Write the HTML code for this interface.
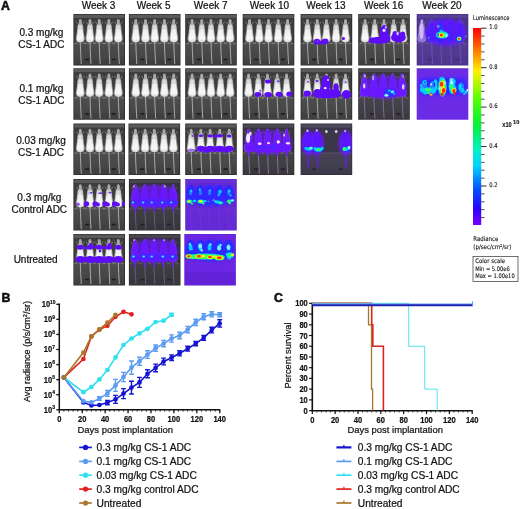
<!DOCTYPE html>
<html lang="en"><head><meta charset="utf-8"><title>Figure</title>
<style>html,body{margin:0;padding:0;background:#fff}body{width:520px;height:509px;overflow:hidden}svg{display:block}text{font-family:"Liberation Sans", sans-serif;fill:#111;stroke:#111;stroke-width:0.22px}.pl{stroke-width:0.55px}.cb{stroke-width:0.12px}</style></head><body>
<svg width="520" height="509" viewBox="0 0 520 509">
<rect width="520" height="509" fill="#fff"/>
<defs>
<linearGradient id="cbar" x1="0" y1="0" x2="0" y2="1"><stop offset="0" stop-color="#ff0000"/><stop offset="0.10" stop-color="#ff6a00"/><stop offset="0.22" stop-color="#fff000"/><stop offset="0.36" stop-color="#55ff00"/><stop offset="0.50" stop-color="#00f03c"/><stop offset="0.62" stop-color="#00f0c8"/><stop offset="0.70" stop-color="#00d2ff"/><stop offset="0.82" stop-color="#0050ff"/><stop offset="0.92" stop-color="#2a00ff"/><stop offset="1" stop-color="#7a00ff"/></linearGradient>
</defs>
<text x="1.0" y="10.2" font-size="12.3" font-weight="700" class="pl">A</text>
<text x="98.5" y="8.6" font-size="10" text-anchor="middle">Week 3</text>
<text x="153.6" y="8.6" font-size="10" text-anchor="middle">Week 5</text>
<text x="210.7" y="8.6" font-size="10" text-anchor="middle">Week 7</text>
<text x="269.4" y="8.6" font-size="10" text-anchor="middle">Week 10</text>
<text x="325.9" y="8.6" font-size="10" text-anchor="middle">Week 13</text>
<text x="383.6" y="8.6" font-size="10" text-anchor="middle">Week 16</text>
<text x="442.0" y="8.6" font-size="10" text-anchor="middle">Week 20</text>
<text x="41.4" y="35.8" font-size="10" text-anchor="middle">0.3 mg/kg</text>
<text x="41.4" y="48.0" font-size="10" text-anchor="middle">CS-1 ADC</text>
<text x="41.4" y="91.5" font-size="10" text-anchor="middle">0.1 mg/kg</text>
<text x="41.4" y="103.6" font-size="10" text-anchor="middle">CS-1 ADC</text>
<text x="41.0" y="144.3" font-size="10" text-anchor="middle">0.03 mg/kg</text>
<text x="41.0" y="156.0" font-size="10" text-anchor="middle">CS-1 ADC</text>
<text x="39.3" y="200.5" font-size="10" text-anchor="middle">0.3 mg/kg</text>
<text x="39.3" y="212.5" font-size="10" text-anchor="middle">Control ADC</text>
<text x="35.6" y="262.7" font-size="10" text-anchor="middle">Untreated</text>
<defs><clipPath id="pc"><rect x="0" y="0" width="51.6" height="51.5"/></clipPath><filter id="soft" x="-10%" y="-10%" width="120%" height="120%"><feGaussianBlur stdDeviation="0.5"/></filter><filter id="b1" x="-50%" y="-50%" width="200%" height="200%"><feGaussianBlur stdDeviation="0.7"/></filter><filter id="b2" x="-50%" y="-50%" width="200%" height="200%"><feGaussianBlur stdDeviation="1.4"/></filter><path id="m" d="M0 5.2C0.9 5.2 1.5 6.2 1.5 7.4C1.5 8.4 1.2 9 1.4 9.7C2.6 10.5 3.0 12.4 3.1 15C3.2 17.6 3.7 20 4.2 22.6C4.8 25.4 4.6 28.6 0 28.6C-4.6 28.6 -4.8 25.4 -4.2 22.6C-3.7 20 -3.2 17.6 -3.1 15C-3.0 12.4 -2.6 10.5 -1.4 9.7C-1.2 9 -1.5 8.4 -1.5 7.4C-1.5 6.2 -0.9 5.2 0 5.2Z"/><linearGradient id="mg" x1="0" y1="0" x2="0" y2="1"><stop offset="0" stop-color="#9c9c9c"/><stop offset="0.2" stop-color="#b8b8b8"/><stop offset="0.32" stop-color="#dcdcdc"/><stop offset="0.5" stop-color="#efefef"/><stop offset="0.85" stop-color="#f8f8f8"/><stop offset="1" stop-color="#d2d2d2"/></linearGradient><path id="t" d="M0 28.5C0.2 36 0.6 44 1 50.2" fill="none"/><linearGradient id="fl" x1="0" y1="0" x2="0" y2="1"><stop offset="0" stop-color="#4e4e4e"/><stop offset="0.5" stop-color="#484848"/><stop offset="1" stop-color="#3e3e3e"/></linearGradient></defs><g transform="translate(73.4 13.9)" clip-path="url(#pc)"><g filter="url(#soft)"><rect x="-3" y="-3" width="58" height="58" fill="#2b2b2b"/><rect x="0.7" y="0.7" width="50.2" height="3.5" fill="#5a5a5a"/><rect x="0.7" y="4.2" width="50.2" height="25.3" fill="#3c3c3c"/><rect x="0.7" y="29.2" width="50.2" height="21.6" fill="url(#fl)"/><rect x="0.7" y="28.9" width="50.2" height="1.4" fill="#5e5e5e"/><rect x="11.6" y="44.8" width="4" height="1.6" fill="#1e1e1e"/><rect x="38.2" y="44.8" width="4" height="1.6" fill="#1e1e1e"/><use href="#t" x="6.9" stroke="#b4b4b4" stroke-width="0.9"/><use href="#t" x="16.6" stroke="#b4b4b4" stroke-width="0.9"/><use href="#t" x="25.8" stroke="#b4b4b4" stroke-width="0.9"/><use href="#t" x="35.5" stroke="#b4b4b4" stroke-width="0.9"/><use href="#t" x="44.9" stroke="#b4b4b4" stroke-width="0.9"/><path d="M3.7 27.6l-1.6 2.6M10.1 27.6l1.6 2.6M4.7 10.4l-1.7 -2.6M9.1 10.4l1.7 -2.6" stroke="#8a8a8a" stroke-width="0.8" fill="none"/><use href="#m" x="6.9" fill="#a9a9a9"/><use href="#m" transform="translate(6.9 0.3) scale(0.76 0.985)" fill="url(#mg)"/><path d="M5.7 10.2h2.4M4.7 13.6l1.2 1.6M9.1 13.6l-1.2 1.6" stroke="#8e8e8e" stroke-width="0.7" fill="none" opacity="0.75"/><path d="M13.4 27.6l-1.6 2.6M19.8 27.6l1.6 2.6M14.4 10.4l-1.7 -2.6M18.8 10.4l1.7 -2.6" stroke="#8a8a8a" stroke-width="0.8" fill="none"/><use href="#m" x="16.6" fill="#a9a9a9"/><use href="#m" transform="translate(16.6 0.3) scale(0.76 0.985)" fill="url(#mg)"/><path d="M15.4 10.2h2.4M14.4 13.6l1.2 1.6M18.8 13.6l-1.2 1.6" stroke="#8e8e8e" stroke-width="0.7" fill="none" opacity="0.75"/><path d="M22.6 27.6l-1.6 2.6M29.0 27.6l1.6 2.6M23.6 10.4l-1.7 -2.6M28.0 10.4l1.7 -2.6" stroke="#8a8a8a" stroke-width="0.8" fill="none"/><use href="#m" x="25.8" fill="#a9a9a9"/><use href="#m" transform="translate(25.8 0.3) scale(0.76 0.985)" fill="url(#mg)"/><path d="M24.6 10.2h2.4M23.6 13.6l1.2 1.6M28.0 13.6l-1.2 1.6" stroke="#8e8e8e" stroke-width="0.7" fill="none" opacity="0.75"/><path d="M32.3 27.6l-1.6 2.6M38.7 27.6l1.6 2.6M33.3 10.4l-1.7 -2.6M37.7 10.4l1.7 -2.6" stroke="#8a8a8a" stroke-width="0.8" fill="none"/><use href="#m" x="35.5" fill="#a9a9a9"/><use href="#m" transform="translate(35.5 0.3) scale(0.76 0.985)" fill="url(#mg)"/><path d="M34.3 10.2h2.4M33.3 13.6l1.2 1.6M37.7 13.6l-1.2 1.6" stroke="#8e8e8e" stroke-width="0.7" fill="none" opacity="0.75"/><path d="M41.7 27.6l-1.6 2.6M48.1 27.6l1.6 2.6M42.7 10.4l-1.7 -2.6M47.1 10.4l1.7 -2.6" stroke="#8a8a8a" stroke-width="0.8" fill="none"/><use href="#m" x="44.9" fill="#a9a9a9"/><use href="#m" transform="translate(44.9 0.3) scale(0.76 0.985)" fill="url(#mg)"/><path d="M43.7 10.2h2.4M42.7 13.6l1.2 1.6M47.1 13.6l-1.2 1.6" stroke="#8e8e8e" stroke-width="0.7" fill="none" opacity="0.75"/></g></g><g transform="translate(128.9 13.9)" clip-path="url(#pc)"><g filter="url(#soft)"><rect x="-3" y="-3" width="58" height="58" fill="#2b2b2b"/><rect x="0.7" y="0.7" width="50.2" height="3.5" fill="#5a5a5a"/><rect x="0.7" y="4.2" width="50.2" height="25.3" fill="#3c3c3c"/><rect x="0.7" y="29.2" width="50.2" height="21.6" fill="url(#fl)"/><rect x="0.7" y="28.9" width="50.2" height="1.4" fill="#5e5e5e"/><rect x="11.6" y="44.8" width="4" height="1.6" fill="#1e1e1e"/><rect x="38.2" y="44.8" width="4" height="1.6" fill="#1e1e1e"/><use href="#t" x="6.9" stroke="#b4b4b4" stroke-width="0.9"/><use href="#t" x="16.6" stroke="#b4b4b4" stroke-width="0.9"/><use href="#t" x="25.8" stroke="#b4b4b4" stroke-width="0.9"/><use href="#t" x="35.5" stroke="#b4b4b4" stroke-width="0.9"/><use href="#t" x="44.9" stroke="#b4b4b4" stroke-width="0.9"/><path d="M3.7 27.6l-1.6 2.6M10.1 27.6l1.6 2.6M4.7 10.4l-1.7 -2.6M9.1 10.4l1.7 -2.6" stroke="#8a8a8a" stroke-width="0.8" fill="none"/><use href="#m" x="6.9" fill="#a9a9a9"/><use href="#m" transform="translate(6.9 0.3) scale(0.76 0.985)" fill="url(#mg)"/><path d="M5.7 10.2h2.4M4.7 13.6l1.2 1.6M9.1 13.6l-1.2 1.6" stroke="#8e8e8e" stroke-width="0.7" fill="none" opacity="0.75"/><path d="M13.4 27.6l-1.6 2.6M19.8 27.6l1.6 2.6M14.4 10.4l-1.7 -2.6M18.8 10.4l1.7 -2.6" stroke="#8a8a8a" stroke-width="0.8" fill="none"/><use href="#m" x="16.6" fill="#a9a9a9"/><use href="#m" transform="translate(16.6 0.3) scale(0.76 0.985)" fill="url(#mg)"/><path d="M15.4 10.2h2.4M14.4 13.6l1.2 1.6M18.8 13.6l-1.2 1.6" stroke="#8e8e8e" stroke-width="0.7" fill="none" opacity="0.75"/><path d="M22.6 27.6l-1.6 2.6M29.0 27.6l1.6 2.6M23.6 10.4l-1.7 -2.6M28.0 10.4l1.7 -2.6" stroke="#8a8a8a" stroke-width="0.8" fill="none"/><use href="#m" x="25.8" fill="#a9a9a9"/><use href="#m" transform="translate(25.8 0.3) scale(0.76 0.985)" fill="url(#mg)"/><path d="M24.6 10.2h2.4M23.6 13.6l1.2 1.6M28.0 13.6l-1.2 1.6" stroke="#8e8e8e" stroke-width="0.7" fill="none" opacity="0.75"/><path d="M32.3 27.6l-1.6 2.6M38.7 27.6l1.6 2.6M33.3 10.4l-1.7 -2.6M37.7 10.4l1.7 -2.6" stroke="#8a8a8a" stroke-width="0.8" fill="none"/><use href="#m" x="35.5" fill="#a9a9a9"/><use href="#m" transform="translate(35.5 0.3) scale(0.76 0.985)" fill="url(#mg)"/><path d="M34.3 10.2h2.4M33.3 13.6l1.2 1.6M37.7 13.6l-1.2 1.6" stroke="#8e8e8e" stroke-width="0.7" fill="none" opacity="0.75"/><path d="M41.7 27.6l-1.6 2.6M48.1 27.6l1.6 2.6M42.7 10.4l-1.7 -2.6M47.1 10.4l1.7 -2.6" stroke="#8a8a8a" stroke-width="0.8" fill="none"/><use href="#m" x="44.9" fill="#a9a9a9"/><use href="#m" transform="translate(44.9 0.3) scale(0.76 0.985)" fill="url(#mg)"/><path d="M43.7 10.2h2.4M42.7 13.6l1.2 1.6M47.1 13.6l-1.2 1.6" stroke="#8e8e8e" stroke-width="0.7" fill="none" opacity="0.75"/></g></g><g transform="translate(185.2 13.9)" clip-path="url(#pc)"><g filter="url(#soft)"><rect x="-3" y="-3" width="58" height="58" fill="#2b2b2b"/><rect x="0.7" y="0.7" width="50.2" height="3.5" fill="#5a5a5a"/><rect x="0.7" y="4.2" width="50.2" height="25.3" fill="#3c3c3c"/><rect x="0.7" y="29.2" width="50.2" height="21.6" fill="url(#fl)"/><rect x="0.7" y="28.9" width="50.2" height="1.4" fill="#5e5e5e"/><rect x="11.6" y="44.8" width="4" height="1.6" fill="#1e1e1e"/><rect x="38.2" y="44.8" width="4" height="1.6" fill="#1e1e1e"/><use href="#t" x="6.9" stroke="#b4b4b4" stroke-width="0.9"/><use href="#t" x="16.6" stroke="#b4b4b4" stroke-width="0.9"/><use href="#t" x="25.8" stroke="#b4b4b4" stroke-width="0.9"/><use href="#t" x="35.5" stroke="#b4b4b4" stroke-width="0.9"/><use href="#t" x="44.9" stroke="#b4b4b4" stroke-width="0.9"/><path d="M3.7 27.6l-1.6 2.6M10.1 27.6l1.6 2.6M4.7 10.4l-1.7 -2.6M9.1 10.4l1.7 -2.6" stroke="#8a8a8a" stroke-width="0.8" fill="none"/><use href="#m" x="6.9" fill="#a9a9a9"/><use href="#m" transform="translate(6.9 0.3) scale(0.76 0.985)" fill="url(#mg)"/><path d="M5.7 10.2h2.4M4.7 13.6l1.2 1.6M9.1 13.6l-1.2 1.6" stroke="#8e8e8e" stroke-width="0.7" fill="none" opacity="0.75"/><path d="M13.4 27.6l-1.6 2.6M19.8 27.6l1.6 2.6M14.4 10.4l-1.7 -2.6M18.8 10.4l1.7 -2.6" stroke="#8a8a8a" stroke-width="0.8" fill="none"/><use href="#m" x="16.6" fill="#a9a9a9"/><use href="#m" transform="translate(16.6 0.3) scale(0.76 0.985)" fill="url(#mg)"/><path d="M15.4 10.2h2.4M14.4 13.6l1.2 1.6M18.8 13.6l-1.2 1.6" stroke="#8e8e8e" stroke-width="0.7" fill="none" opacity="0.75"/><path d="M22.6 27.6l-1.6 2.6M29.0 27.6l1.6 2.6M23.6 10.4l-1.7 -2.6M28.0 10.4l1.7 -2.6" stroke="#8a8a8a" stroke-width="0.8" fill="none"/><use href="#m" x="25.8" fill="#a9a9a9"/><use href="#m" transform="translate(25.8 0.3) scale(0.76 0.985)" fill="url(#mg)"/><path d="M24.6 10.2h2.4M23.6 13.6l1.2 1.6M28.0 13.6l-1.2 1.6" stroke="#8e8e8e" stroke-width="0.7" fill="none" opacity="0.75"/><path d="M32.3 27.6l-1.6 2.6M38.7 27.6l1.6 2.6M33.3 10.4l-1.7 -2.6M37.7 10.4l1.7 -2.6" stroke="#8a8a8a" stroke-width="0.8" fill="none"/><use href="#m" x="35.5" fill="#a9a9a9"/><use href="#m" transform="translate(35.5 0.3) scale(0.76 0.985)" fill="url(#mg)"/><path d="M34.3 10.2h2.4M33.3 13.6l1.2 1.6M37.7 13.6l-1.2 1.6" stroke="#8e8e8e" stroke-width="0.7" fill="none" opacity="0.75"/><path d="M41.7 27.6l-1.6 2.6M48.1 27.6l1.6 2.6M42.7 10.4l-1.7 -2.6M47.1 10.4l1.7 -2.6" stroke="#8a8a8a" stroke-width="0.8" fill="none"/><use href="#m" x="44.9" fill="#a9a9a9"/><use href="#m" transform="translate(44.9 0.3) scale(0.76 0.985)" fill="url(#mg)"/><path d="M43.7 10.2h2.4M42.7 13.6l1.2 1.6M47.1 13.6l-1.2 1.6" stroke="#8e8e8e" stroke-width="0.7" fill="none" opacity="0.75"/></g></g><g transform="translate(242.7 13.9)" clip-path="url(#pc)"><g filter="url(#soft)"><rect x="-3" y="-3" width="58" height="58" fill="#2b2b2b"/><rect x="0.7" y="0.7" width="50.2" height="3.5" fill="#5a5a5a"/><rect x="0.7" y="4.2" width="50.2" height="25.3" fill="#3c3c3c"/><rect x="0.7" y="29.2" width="50.2" height="21.6" fill="url(#fl)"/><rect x="0.7" y="28.9" width="50.2" height="1.4" fill="#5e5e5e"/><rect x="11.6" y="44.8" width="4" height="1.6" fill="#1e1e1e"/><rect x="38.2" y="44.8" width="4" height="1.6" fill="#1e1e1e"/><use href="#t" x="6.9" stroke="#b4b4b4" stroke-width="0.9"/><use href="#t" x="16.6" stroke="#b4b4b4" stroke-width="0.9"/><use href="#t" x="25.8" stroke="#b4b4b4" stroke-width="0.9"/><use href="#t" x="35.5" stroke="#b4b4b4" stroke-width="0.9"/><use href="#t" x="44.9" stroke="#b4b4b4" stroke-width="0.9"/><path d="M3.7 27.6l-1.6 2.6M10.1 27.6l1.6 2.6M4.7 10.4l-1.7 -2.6M9.1 10.4l1.7 -2.6" stroke="#8a8a8a" stroke-width="0.8" fill="none"/><use href="#m" x="6.9" fill="#a9a9a9"/><use href="#m" transform="translate(6.9 0.3) scale(0.76 0.985)" fill="url(#mg)"/><path d="M5.7 10.2h2.4M4.7 13.6l1.2 1.6M9.1 13.6l-1.2 1.6" stroke="#8e8e8e" stroke-width="0.7" fill="none" opacity="0.75"/><path d="M13.4 27.6l-1.6 2.6M19.8 27.6l1.6 2.6M14.4 10.4l-1.7 -2.6M18.8 10.4l1.7 -2.6" stroke="#8a8a8a" stroke-width="0.8" fill="none"/><use href="#m" x="16.6" fill="#a9a9a9"/><use href="#m" transform="translate(16.6 0.3) scale(0.76 0.985)" fill="url(#mg)"/><path d="M15.4 10.2h2.4M14.4 13.6l1.2 1.6M18.8 13.6l-1.2 1.6" stroke="#8e8e8e" stroke-width="0.7" fill="none" opacity="0.75"/><path d="M22.6 27.6l-1.6 2.6M29.0 27.6l1.6 2.6M23.6 10.4l-1.7 -2.6M28.0 10.4l1.7 -2.6" stroke="#8a8a8a" stroke-width="0.8" fill="none"/><use href="#m" x="25.8" fill="#a9a9a9"/><use href="#m" transform="translate(25.8 0.3) scale(0.76 0.985)" fill="url(#mg)"/><path d="M24.6 10.2h2.4M23.6 13.6l1.2 1.6M28.0 13.6l-1.2 1.6" stroke="#8e8e8e" stroke-width="0.7" fill="none" opacity="0.75"/><path d="M32.3 27.6l-1.6 2.6M38.7 27.6l1.6 2.6M33.3 10.4l-1.7 -2.6M37.7 10.4l1.7 -2.6" stroke="#8a8a8a" stroke-width="0.8" fill="none"/><use href="#m" x="35.5" fill="#a9a9a9"/><use href="#m" transform="translate(35.5 0.3) scale(0.76 0.985)" fill="url(#mg)"/><path d="M34.3 10.2h2.4M33.3 13.6l1.2 1.6M37.7 13.6l-1.2 1.6" stroke="#8e8e8e" stroke-width="0.7" fill="none" opacity="0.75"/><path d="M41.7 27.6l-1.6 2.6M48.1 27.6l1.6 2.6M42.7 10.4l-1.7 -2.6M47.1 10.4l1.7 -2.6" stroke="#8a8a8a" stroke-width="0.8" fill="none"/><use href="#m" x="44.9" fill="#a9a9a9"/><use href="#m" transform="translate(44.9 0.3) scale(0.76 0.985)" fill="url(#mg)"/><path d="M43.7 10.2h2.4M42.7 13.6l1.2 1.6M47.1 13.6l-1.2 1.6" stroke="#8e8e8e" stroke-width="0.7" fill="none" opacity="0.75"/></g></g><g transform="translate(73.4 68.3)" clip-path="url(#pc)"><g filter="url(#soft)"><rect x="-3" y="-3" width="58" height="58" fill="#2b2b2b"/><rect x="0.7" y="0.7" width="50.2" height="3.5" fill="#5a5a5a"/><rect x="0.7" y="4.2" width="50.2" height="25.3" fill="#3c3c3c"/><rect x="0.7" y="29.2" width="50.2" height="21.6" fill="url(#fl)"/><rect x="0.7" y="28.9" width="50.2" height="1.4" fill="#5e5e5e"/><rect x="11.6" y="44.8" width="4" height="1.6" fill="#1e1e1e"/><rect x="38.2" y="44.8" width="4" height="1.6" fill="#1e1e1e"/><use href="#t" x="6.9" stroke="#b4b4b4" stroke-width="0.9"/><use href="#t" x="16.6" stroke="#b4b4b4" stroke-width="0.9"/><use href="#t" x="25.8" stroke="#b4b4b4" stroke-width="0.9"/><use href="#t" x="35.5" stroke="#b4b4b4" stroke-width="0.9"/><use href="#t" x="44.9" stroke="#b4b4b4" stroke-width="0.9"/><path d="M3.7 27.6l-1.6 2.6M10.1 27.6l1.6 2.6M4.7 10.4l-1.7 -2.6M9.1 10.4l1.7 -2.6" stroke="#8a8a8a" stroke-width="0.8" fill="none"/><use href="#m" x="6.9" fill="#a9a9a9"/><use href="#m" transform="translate(6.9 0.3) scale(0.76 0.985)" fill="url(#mg)"/><path d="M5.7 10.2h2.4M4.7 13.6l1.2 1.6M9.1 13.6l-1.2 1.6" stroke="#8e8e8e" stroke-width="0.7" fill="none" opacity="0.75"/><path d="M13.4 27.6l-1.6 2.6M19.8 27.6l1.6 2.6M14.4 10.4l-1.7 -2.6M18.8 10.4l1.7 -2.6" stroke="#8a8a8a" stroke-width="0.8" fill="none"/><use href="#m" x="16.6" fill="#a9a9a9"/><use href="#m" transform="translate(16.6 0.3) scale(0.76 0.985)" fill="url(#mg)"/><path d="M15.4 10.2h2.4M14.4 13.6l1.2 1.6M18.8 13.6l-1.2 1.6" stroke="#8e8e8e" stroke-width="0.7" fill="none" opacity="0.75"/><path d="M22.6 27.6l-1.6 2.6M29.0 27.6l1.6 2.6M23.6 10.4l-1.7 -2.6M28.0 10.4l1.7 -2.6" stroke="#8a8a8a" stroke-width="0.8" fill="none"/><use href="#m" x="25.8" fill="#a9a9a9"/><use href="#m" transform="translate(25.8 0.3) scale(0.76 0.985)" fill="url(#mg)"/><path d="M24.6 10.2h2.4M23.6 13.6l1.2 1.6M28.0 13.6l-1.2 1.6" stroke="#8e8e8e" stroke-width="0.7" fill="none" opacity="0.75"/><path d="M32.3 27.6l-1.6 2.6M38.7 27.6l1.6 2.6M33.3 10.4l-1.7 -2.6M37.7 10.4l1.7 -2.6" stroke="#8a8a8a" stroke-width="0.8" fill="none"/><use href="#m" x="35.5" fill="#a9a9a9"/><use href="#m" transform="translate(35.5 0.3) scale(0.76 0.985)" fill="url(#mg)"/><path d="M34.3 10.2h2.4M33.3 13.6l1.2 1.6M37.7 13.6l-1.2 1.6" stroke="#8e8e8e" stroke-width="0.7" fill="none" opacity="0.75"/><path d="M41.7 27.6l-1.6 2.6M48.1 27.6l1.6 2.6M42.7 10.4l-1.7 -2.6M47.1 10.4l1.7 -2.6" stroke="#8a8a8a" stroke-width="0.8" fill="none"/><use href="#m" x="44.9" fill="#a9a9a9"/><use href="#m" transform="translate(44.9 0.3) scale(0.76 0.985)" fill="url(#mg)"/><path d="M43.7 10.2h2.4M42.7 13.6l1.2 1.6M47.1 13.6l-1.2 1.6" stroke="#8e8e8e" stroke-width="0.7" fill="none" opacity="0.75"/></g></g><g transform="translate(128.9 68.3)" clip-path="url(#pc)"><g filter="url(#soft)"><rect x="-3" y="-3" width="58" height="58" fill="#2b2b2b"/><rect x="0.7" y="0.7" width="50.2" height="3.5" fill="#5a5a5a"/><rect x="0.7" y="4.2" width="50.2" height="25.3" fill="#3c3c3c"/><rect x="0.7" y="29.2" width="50.2" height="21.6" fill="url(#fl)"/><rect x="0.7" y="28.9" width="50.2" height="1.4" fill="#5e5e5e"/><rect x="11.6" y="44.8" width="4" height="1.6" fill="#1e1e1e"/><rect x="38.2" y="44.8" width="4" height="1.6" fill="#1e1e1e"/><use href="#t" x="6.9" stroke="#b4b4b4" stroke-width="0.9"/><use href="#t" x="16.6" stroke="#b4b4b4" stroke-width="0.9"/><use href="#t" x="25.8" stroke="#b4b4b4" stroke-width="0.9"/><use href="#t" x="35.5" stroke="#b4b4b4" stroke-width="0.9"/><use href="#t" x="44.9" stroke="#b4b4b4" stroke-width="0.9"/><path d="M3.7 27.6l-1.6 2.6M10.1 27.6l1.6 2.6M4.7 10.4l-1.7 -2.6M9.1 10.4l1.7 -2.6" stroke="#8a8a8a" stroke-width="0.8" fill="none"/><use href="#m" x="6.9" fill="#a9a9a9"/><use href="#m" transform="translate(6.9 0.3) scale(0.76 0.985)" fill="url(#mg)"/><path d="M5.7 10.2h2.4M4.7 13.6l1.2 1.6M9.1 13.6l-1.2 1.6" stroke="#8e8e8e" stroke-width="0.7" fill="none" opacity="0.75"/><path d="M13.4 27.6l-1.6 2.6M19.8 27.6l1.6 2.6M14.4 10.4l-1.7 -2.6M18.8 10.4l1.7 -2.6" stroke="#8a8a8a" stroke-width="0.8" fill="none"/><use href="#m" x="16.6" fill="#a9a9a9"/><use href="#m" transform="translate(16.6 0.3) scale(0.76 0.985)" fill="url(#mg)"/><path d="M15.4 10.2h2.4M14.4 13.6l1.2 1.6M18.8 13.6l-1.2 1.6" stroke="#8e8e8e" stroke-width="0.7" fill="none" opacity="0.75"/><path d="M22.6 27.6l-1.6 2.6M29.0 27.6l1.6 2.6M23.6 10.4l-1.7 -2.6M28.0 10.4l1.7 -2.6" stroke="#8a8a8a" stroke-width="0.8" fill="none"/><use href="#m" x="25.8" fill="#a9a9a9"/><use href="#m" transform="translate(25.8 0.3) scale(0.76 0.985)" fill="url(#mg)"/><path d="M24.6 10.2h2.4M23.6 13.6l1.2 1.6M28.0 13.6l-1.2 1.6" stroke="#8e8e8e" stroke-width="0.7" fill="none" opacity="0.75"/><path d="M32.3 27.6l-1.6 2.6M38.7 27.6l1.6 2.6M33.3 10.4l-1.7 -2.6M37.7 10.4l1.7 -2.6" stroke="#8a8a8a" stroke-width="0.8" fill="none"/><use href="#m" x="35.5" fill="#a9a9a9"/><use href="#m" transform="translate(35.5 0.3) scale(0.76 0.985)" fill="url(#mg)"/><path d="M34.3 10.2h2.4M33.3 13.6l1.2 1.6M37.7 13.6l-1.2 1.6" stroke="#8e8e8e" stroke-width="0.7" fill="none" opacity="0.75"/><path d="M41.7 27.6l-1.6 2.6M48.1 27.6l1.6 2.6M42.7 10.4l-1.7 -2.6M47.1 10.4l1.7 -2.6" stroke="#8a8a8a" stroke-width="0.8" fill="none"/><use href="#m" x="44.9" fill="#a9a9a9"/><use href="#m" transform="translate(44.9 0.3) scale(0.76 0.985)" fill="url(#mg)"/><path d="M43.7 10.2h2.4M42.7 13.6l1.2 1.6M47.1 13.6l-1.2 1.6" stroke="#8e8e8e" stroke-width="0.7" fill="none" opacity="0.75"/></g></g><g transform="translate(185.2 68.3)" clip-path="url(#pc)"><g filter="url(#soft)"><rect x="-3" y="-3" width="58" height="58" fill="#2b2b2b"/><rect x="0.7" y="0.7" width="50.2" height="3.5" fill="#5a5a5a"/><rect x="0.7" y="4.2" width="50.2" height="25.3" fill="#3c3c3c"/><rect x="0.7" y="29.2" width="50.2" height="21.6" fill="url(#fl)"/><rect x="0.7" y="28.9" width="50.2" height="1.4" fill="#5e5e5e"/><rect x="11.6" y="44.8" width="4" height="1.6" fill="#1e1e1e"/><rect x="38.2" y="44.8" width="4" height="1.6" fill="#1e1e1e"/><use href="#t" x="6.9" stroke="#b4b4b4" stroke-width="0.9"/><use href="#t" x="16.6" stroke="#b4b4b4" stroke-width="0.9"/><use href="#t" x="25.8" stroke="#b4b4b4" stroke-width="0.9"/><use href="#t" x="35.5" stroke="#b4b4b4" stroke-width="0.9"/><use href="#t" x="44.9" stroke="#b4b4b4" stroke-width="0.9"/><path d="M3.7 27.6l-1.6 2.6M10.1 27.6l1.6 2.6M4.7 10.4l-1.7 -2.6M9.1 10.4l1.7 -2.6" stroke="#8a8a8a" stroke-width="0.8" fill="none"/><use href="#m" x="6.9" fill="#a9a9a9"/><use href="#m" transform="translate(6.9 0.3) scale(0.76 0.985)" fill="url(#mg)"/><path d="M5.7 10.2h2.4M4.7 13.6l1.2 1.6M9.1 13.6l-1.2 1.6" stroke="#8e8e8e" stroke-width="0.7" fill="none" opacity="0.75"/><path d="M13.4 27.6l-1.6 2.6M19.8 27.6l1.6 2.6M14.4 10.4l-1.7 -2.6M18.8 10.4l1.7 -2.6" stroke="#8a8a8a" stroke-width="0.8" fill="none"/><use href="#m" x="16.6" fill="#a9a9a9"/><use href="#m" transform="translate(16.6 0.3) scale(0.76 0.985)" fill="url(#mg)"/><path d="M15.4 10.2h2.4M14.4 13.6l1.2 1.6M18.8 13.6l-1.2 1.6" stroke="#8e8e8e" stroke-width="0.7" fill="none" opacity="0.75"/><path d="M22.6 27.6l-1.6 2.6M29.0 27.6l1.6 2.6M23.6 10.4l-1.7 -2.6M28.0 10.4l1.7 -2.6" stroke="#8a8a8a" stroke-width="0.8" fill="none"/><use href="#m" x="25.8" fill="#a9a9a9"/><use href="#m" transform="translate(25.8 0.3) scale(0.76 0.985)" fill="url(#mg)"/><path d="M24.6 10.2h2.4M23.6 13.6l1.2 1.6M28.0 13.6l-1.2 1.6" stroke="#8e8e8e" stroke-width="0.7" fill="none" opacity="0.75"/><path d="M32.3 27.6l-1.6 2.6M38.7 27.6l1.6 2.6M33.3 10.4l-1.7 -2.6M37.7 10.4l1.7 -2.6" stroke="#8a8a8a" stroke-width="0.8" fill="none"/><use href="#m" x="35.5" fill="#a9a9a9"/><use href="#m" transform="translate(35.5 0.3) scale(0.76 0.985)" fill="url(#mg)"/><path d="M34.3 10.2h2.4M33.3 13.6l1.2 1.6M37.7 13.6l-1.2 1.6" stroke="#8e8e8e" stroke-width="0.7" fill="none" opacity="0.75"/><path d="M41.7 27.6l-1.6 2.6M48.1 27.6l1.6 2.6M42.7 10.4l-1.7 -2.6M47.1 10.4l1.7 -2.6" stroke="#8a8a8a" stroke-width="0.8" fill="none"/><use href="#m" x="44.9" fill="#a9a9a9"/><use href="#m" transform="translate(44.9 0.3) scale(0.76 0.985)" fill="url(#mg)"/><path d="M43.7 10.2h2.4M42.7 13.6l1.2 1.6M47.1 13.6l-1.2 1.6" stroke="#8e8e8e" stroke-width="0.7" fill="none" opacity="0.75"/></g></g><g transform="translate(73.4 123.6)" clip-path="url(#pc)"><g filter="url(#soft)"><rect x="-3" y="-3" width="58" height="58" fill="#2b2b2b"/><rect x="0.7" y="0.7" width="50.2" height="3.5" fill="#5a5a5a"/><rect x="0.7" y="4.2" width="50.2" height="25.3" fill="#3c3c3c"/><rect x="0.7" y="29.2" width="50.2" height="21.6" fill="url(#fl)"/><rect x="0.7" y="28.9" width="50.2" height="1.4" fill="#5e5e5e"/><rect x="11.6" y="44.8" width="4" height="1.6" fill="#1e1e1e"/><rect x="38.2" y="44.8" width="4" height="1.6" fill="#1e1e1e"/><use href="#t" x="6.9" stroke="#b4b4b4" stroke-width="0.9"/><use href="#t" x="16.6" stroke="#b4b4b4" stroke-width="0.9"/><use href="#t" x="25.8" stroke="#b4b4b4" stroke-width="0.9"/><use href="#t" x="35.5" stroke="#b4b4b4" stroke-width="0.9"/><use href="#t" x="44.9" stroke="#b4b4b4" stroke-width="0.9"/><path d="M3.7 27.6l-1.6 2.6M10.1 27.6l1.6 2.6M4.7 10.4l-1.7 -2.6M9.1 10.4l1.7 -2.6" stroke="#8a8a8a" stroke-width="0.8" fill="none"/><use href="#m" x="6.9" fill="#a9a9a9"/><use href="#m" transform="translate(6.9 0.3) scale(0.76 0.985)" fill="url(#mg)"/><path d="M5.7 10.2h2.4M4.7 13.6l1.2 1.6M9.1 13.6l-1.2 1.6" stroke="#8e8e8e" stroke-width="0.7" fill="none" opacity="0.75"/><path d="M13.4 27.6l-1.6 2.6M19.8 27.6l1.6 2.6M14.4 10.4l-1.7 -2.6M18.8 10.4l1.7 -2.6" stroke="#8a8a8a" stroke-width="0.8" fill="none"/><use href="#m" x="16.6" fill="#a9a9a9"/><use href="#m" transform="translate(16.6 0.3) scale(0.76 0.985)" fill="url(#mg)"/><path d="M15.4 10.2h2.4M14.4 13.6l1.2 1.6M18.8 13.6l-1.2 1.6" stroke="#8e8e8e" stroke-width="0.7" fill="none" opacity="0.75"/><path d="M22.6 27.6l-1.6 2.6M29.0 27.6l1.6 2.6M23.6 10.4l-1.7 -2.6M28.0 10.4l1.7 -2.6" stroke="#8a8a8a" stroke-width="0.8" fill="none"/><use href="#m" x="25.8" fill="#a9a9a9"/><use href="#m" transform="translate(25.8 0.3) scale(0.76 0.985)" fill="url(#mg)"/><path d="M24.6 10.2h2.4M23.6 13.6l1.2 1.6M28.0 13.6l-1.2 1.6" stroke="#8e8e8e" stroke-width="0.7" fill="none" opacity="0.75"/><path d="M32.3 27.6l-1.6 2.6M38.7 27.6l1.6 2.6M33.3 10.4l-1.7 -2.6M37.7 10.4l1.7 -2.6" stroke="#8a8a8a" stroke-width="0.8" fill="none"/><use href="#m" x="35.5" fill="#a9a9a9"/><use href="#m" transform="translate(35.5 0.3) scale(0.76 0.985)" fill="url(#mg)"/><path d="M34.3 10.2h2.4M33.3 13.6l1.2 1.6M37.7 13.6l-1.2 1.6" stroke="#8e8e8e" stroke-width="0.7" fill="none" opacity="0.75"/><path d="M41.7 27.6l-1.6 2.6M48.1 27.6l1.6 2.6M42.7 10.4l-1.7 -2.6M47.1 10.4l1.7 -2.6" stroke="#8a8a8a" stroke-width="0.8" fill="none"/><use href="#m" x="44.9" fill="#a9a9a9"/><use href="#m" transform="translate(44.9 0.3) scale(0.76 0.985)" fill="url(#mg)"/><path d="M43.7 10.2h2.4M42.7 13.6l1.2 1.6M47.1 13.6l-1.2 1.6" stroke="#8e8e8e" stroke-width="0.7" fill="none" opacity="0.75"/></g></g><g transform="translate(128.5 123.6)" clip-path="url(#pc)"><g filter="url(#soft)"><rect x="-3" y="-3" width="58" height="58" fill="#2b2b2b"/><rect x="0.7" y="0.7" width="50.2" height="3.5" fill="#5a5a5a"/><rect x="0.7" y="4.2" width="50.2" height="25.3" fill="#3c3c3c"/><rect x="0.7" y="29.2" width="50.2" height="21.6" fill="url(#fl)"/><rect x="0.7" y="28.9" width="50.2" height="1.4" fill="#5e5e5e"/><rect x="11.6" y="44.8" width="4" height="1.6" fill="#1e1e1e"/><rect x="38.2" y="44.8" width="4" height="1.6" fill="#1e1e1e"/><use href="#t" x="6.9" stroke="#b4b4b4" stroke-width="0.9"/><use href="#t" x="16.6" stroke="#b4b4b4" stroke-width="0.9"/><use href="#t" x="25.8" stroke="#b4b4b4" stroke-width="0.9"/><use href="#t" x="35.5" stroke="#b4b4b4" stroke-width="0.9"/><use href="#t" x="44.9" stroke="#b4b4b4" stroke-width="0.9"/><path d="M3.7 27.6l-1.6 2.6M10.1 27.6l1.6 2.6M4.7 10.4l-1.7 -2.6M9.1 10.4l1.7 -2.6" stroke="#8a8a8a" stroke-width="0.8" fill="none"/><use href="#m" x="6.9" fill="#a9a9a9"/><use href="#m" transform="translate(6.9 0.3) scale(0.76 0.985)" fill="url(#mg)"/><path d="M5.7 10.2h2.4M4.7 13.6l1.2 1.6M9.1 13.6l-1.2 1.6" stroke="#8e8e8e" stroke-width="0.7" fill="none" opacity="0.75"/><path d="M13.4 27.6l-1.6 2.6M19.8 27.6l1.6 2.6M14.4 10.4l-1.7 -2.6M18.8 10.4l1.7 -2.6" stroke="#8a8a8a" stroke-width="0.8" fill="none"/><use href="#m" x="16.6" fill="#a9a9a9"/><use href="#m" transform="translate(16.6 0.3) scale(0.76 0.985)" fill="url(#mg)"/><path d="M15.4 10.2h2.4M14.4 13.6l1.2 1.6M18.8 13.6l-1.2 1.6" stroke="#8e8e8e" stroke-width="0.7" fill="none" opacity="0.75"/><path d="M22.6 27.6l-1.6 2.6M29.0 27.6l1.6 2.6M23.6 10.4l-1.7 -2.6M28.0 10.4l1.7 -2.6" stroke="#8a8a8a" stroke-width="0.8" fill="none"/><use href="#m" x="25.8" fill="#a9a9a9"/><use href="#m" transform="translate(25.8 0.3) scale(0.76 0.985)" fill="url(#mg)"/><path d="M24.6 10.2h2.4M23.6 13.6l1.2 1.6M28.0 13.6l-1.2 1.6" stroke="#8e8e8e" stroke-width="0.7" fill="none" opacity="0.75"/><path d="M32.3 27.6l-1.6 2.6M38.7 27.6l1.6 2.6M33.3 10.4l-1.7 -2.6M37.7 10.4l1.7 -2.6" stroke="#8a8a8a" stroke-width="0.8" fill="none"/><use href="#m" x="35.5" fill="#a9a9a9"/><use href="#m" transform="translate(35.5 0.3) scale(0.76 0.985)" fill="url(#mg)"/><path d="M34.3 10.2h2.4M33.3 13.6l1.2 1.6M37.7 13.6l-1.2 1.6" stroke="#8e8e8e" stroke-width="0.7" fill="none" opacity="0.75"/><path d="M41.7 27.6l-1.6 2.6M48.1 27.6l1.6 2.6M42.7 10.4l-1.7 -2.6M47.1 10.4l1.7 -2.6" stroke="#8a8a8a" stroke-width="0.8" fill="none"/><use href="#m" x="44.9" fill="#a9a9a9"/><use href="#m" transform="translate(44.9 0.3) scale(0.76 0.985)" fill="url(#mg)"/><path d="M43.7 10.2h2.4M42.7 13.6l1.2 1.6M47.1 13.6l-1.2 1.6" stroke="#8e8e8e" stroke-width="0.7" fill="none" opacity="0.75"/></g></g><g transform="translate(300.6 13.9)" clip-path="url(#pc)"><g filter="url(#soft)"><rect x="-3" y="-3" width="58" height="58" fill="#2b2b2b"/><rect x="0.7" y="0.7" width="50.2" height="3.5" fill="#5a5a5a"/><rect x="0.7" y="4.2" width="50.2" height="25.3" fill="#3c3c3c"/><rect x="0.7" y="29.2" width="50.2" height="21.6" fill="url(#fl)"/><rect x="0.7" y="28.9" width="50.2" height="1.4" fill="#5e5e5e"/><rect x="11.6" y="44.8" width="4" height="1.6" fill="#1e1e1e"/><rect x="38.2" y="44.8" width="4" height="1.6" fill="#1e1e1e"/><use href="#t" x="6.9" stroke="#b4b4b4" stroke-width="0.9"/><use href="#t" x="16.6" stroke="#b4b4b4" stroke-width="0.9"/><use href="#t" x="25.8" stroke="#b4b4b4" stroke-width="0.9"/><use href="#t" x="35.5" stroke="#b4b4b4" stroke-width="0.9"/><use href="#t" x="44.9" stroke="#b4b4b4" stroke-width="0.9"/><path d="M3.7 27.6l-1.6 2.6M10.1 27.6l1.6 2.6M4.7 10.4l-1.7 -2.6M9.1 10.4l1.7 -2.6" stroke="#8a8a8a" stroke-width="0.8" fill="none"/><use href="#m" x="6.9" fill="#a9a9a9"/><use href="#m" transform="translate(6.9 0.3) scale(0.76 0.985)" fill="url(#mg)"/><path d="M5.7 10.2h2.4M4.7 13.6l1.2 1.6M9.1 13.6l-1.2 1.6" stroke="#8e8e8e" stroke-width="0.7" fill="none" opacity="0.75"/><path d="M13.4 27.6l-1.6 2.6M19.8 27.6l1.6 2.6M14.4 10.4l-1.7 -2.6M18.8 10.4l1.7 -2.6" stroke="#8a8a8a" stroke-width="0.8" fill="none"/><use href="#m" x="16.6" fill="#a9a9a9"/><use href="#m" transform="translate(16.6 0.3) scale(0.76 0.985)" fill="url(#mg)"/><path d="M15.4 10.2h2.4M14.4 13.6l1.2 1.6M18.8 13.6l-1.2 1.6" stroke="#8e8e8e" stroke-width="0.7" fill="none" opacity="0.75"/><path d="M22.6 27.6l-1.6 2.6M29.0 27.6l1.6 2.6M23.6 10.4l-1.7 -2.6M28.0 10.4l1.7 -2.6" stroke="#8a8a8a" stroke-width="0.8" fill="none"/><use href="#m" x="25.8" fill="#a9a9a9"/><use href="#m" transform="translate(25.8 0.3) scale(0.76 0.985)" fill="url(#mg)"/><path d="M24.6 10.2h2.4M23.6 13.6l1.2 1.6M28.0 13.6l-1.2 1.6" stroke="#8e8e8e" stroke-width="0.7" fill="none" opacity="0.75"/><path d="M32.3 27.6l-1.6 2.6M38.7 27.6l1.6 2.6M33.3 10.4l-1.7 -2.6M37.7 10.4l1.7 -2.6" stroke="#8a8a8a" stroke-width="0.8" fill="none"/><use href="#m" x="35.5" fill="#a9a9a9"/><use href="#m" transform="translate(35.5 0.3) scale(0.76 0.985)" fill="url(#mg)"/><path d="M34.3 10.2h2.4M33.3 13.6l1.2 1.6M37.7 13.6l-1.2 1.6" stroke="#8e8e8e" stroke-width="0.7" fill="none" opacity="0.75"/><path d="M41.7 27.6l-1.6 2.6M48.1 27.6l1.6 2.6M42.7 10.4l-1.7 -2.6M47.1 10.4l1.7 -2.6" stroke="#8a8a8a" stroke-width="0.8" fill="none"/><use href="#m" x="44.9" fill="#a9a9a9"/><use href="#m" transform="translate(44.9 0.3) scale(0.76 0.985)" fill="url(#mg)"/><path d="M43.7 10.2h2.4M42.7 13.6l1.2 1.6M47.1 13.6l-1.2 1.6" stroke="#8e8e8e" stroke-width="0.7" fill="none" opacity="0.75"/><ellipse cx="16.4" cy="27.8" rx="3.3" ry="2.9" fill="#5f10f8" filter="url(#b1)" opacity="1.00"/><ellipse cx="24.6" cy="27.6" rx="3.3" ry="2.9" fill="#5f10f8" filter="url(#b1)" opacity="1.00"/><ellipse cx="20.5" cy="28.6" rx="3.5" ry="1.8" fill="#5f10f8" filter="url(#b1)" opacity="1.00"/><ellipse cx="42.8" cy="24.6" rx="1.6" ry="1.6" fill="#5f10f8" filter="url(#b1)" opacity="1.00"/><ellipse cx="16.8" cy="27.4" rx="0.9" ry="0.8" fill="#8a5cff" filter="url(#b1)" opacity="1.00"/></g></g><g transform="translate(358.2 13.9)" clip-path="url(#pc)"><g filter="url(#soft)"><rect x="-3" y="-3" width="58" height="58" fill="#2b2b2b"/><rect x="0.7" y="0.7" width="50.2" height="3.5" fill="#5a5a5a"/><rect x="0.7" y="4.2" width="50.2" height="25.3" fill="#3c3c3c"/><rect x="0.7" y="29.2" width="50.2" height="21.6" fill="url(#fl)"/><rect x="0.7" y="28.9" width="50.2" height="1.4" fill="#5e5e5e"/><rect x="11.6" y="44.8" width="4" height="1.6" fill="#1e1e1e"/><rect x="38.2" y="44.8" width="4" height="1.6" fill="#1e1e1e"/><use href="#t" x="6.9" stroke="#b4b4b4" stroke-width="0.9"/><use href="#t" x="16.6" stroke="#b4b4b4" stroke-width="0.9"/><use href="#t" x="25.8" stroke="#b4b4b4" stroke-width="0.9"/><use href="#t" x="35.5" stroke="#b4b4b4" stroke-width="0.9"/><use href="#t" x="44.9" stroke="#b4b4b4" stroke-width="0.9"/><path d="M3.7 27.6l-1.6 2.6M10.1 27.6l1.6 2.6M4.7 10.4l-1.7 -2.6M9.1 10.4l1.7 -2.6" stroke="#8a8a8a" stroke-width="0.8" fill="none"/><use href="#m" x="6.9" fill="#a9a9a9"/><use href="#m" transform="translate(6.9 0.3) scale(0.76 0.985)" fill="url(#mg)"/><path d="M5.7 10.2h2.4M4.7 13.6l1.2 1.6M9.1 13.6l-1.2 1.6" stroke="#8e8e8e" stroke-width="0.7" fill="none" opacity="0.75"/><path d="M13.4 27.6l-1.6 2.6M19.8 27.6l1.6 2.6M14.4 10.4l-1.7 -2.6M18.8 10.4l1.7 -2.6" stroke="#8a8a8a" stroke-width="0.8" fill="none"/><use href="#m" x="16.6" fill="#a9a9a9"/><use href="#m" transform="translate(16.6 0.3) scale(0.76 0.985)" fill="url(#mg)"/><path d="M15.4 10.2h2.4M14.4 13.6l1.2 1.6M18.8 13.6l-1.2 1.6" stroke="#8e8e8e" stroke-width="0.7" fill="none" opacity="0.75"/><path d="M22.6 27.6l-1.6 2.6M29.0 27.6l1.6 2.6M23.6 10.4l-1.7 -2.6M28.0 10.4l1.7 -2.6" stroke="#8a8a8a" stroke-width="0.8" fill="none"/><use href="#m" x="25.8" fill="#a9a9a9"/><use href="#m" transform="translate(25.8 0.3) scale(0.76 0.985)" fill="url(#mg)"/><path d="M24.6 10.2h2.4M23.6 13.6l1.2 1.6M28.0 13.6l-1.2 1.6" stroke="#8e8e8e" stroke-width="0.7" fill="none" opacity="0.75"/><path d="M32.3 27.6l-1.6 2.6M38.7 27.6l1.6 2.6M33.3 10.4l-1.7 -2.6M37.7 10.4l1.7 -2.6" stroke="#8a8a8a" stroke-width="0.8" fill="none"/><use href="#m" x="35.5" fill="#a9a9a9"/><use href="#m" transform="translate(35.5 0.3) scale(0.76 0.985)" fill="url(#mg)"/><path d="M34.3 10.2h2.4M33.3 13.6l1.2 1.6M37.7 13.6l-1.2 1.6" stroke="#8e8e8e" stroke-width="0.7" fill="none" opacity="0.75"/><path d="M41.7 27.6l-1.6 2.6M48.1 27.6l1.6 2.6M42.7 10.4l-1.7 -2.6M47.1 10.4l1.7 -2.6" stroke="#8a8a8a" stroke-width="0.8" fill="none"/><use href="#m" x="44.9" fill="#a9a9a9"/><use href="#m" transform="translate(44.9 0.3) scale(0.76 0.985)" fill="url(#mg)"/><path d="M43.7 10.2h2.4M42.7 13.6l1.2 1.6M47.1 13.6l-1.2 1.6" stroke="#8e8e8e" stroke-width="0.7" fill="none" opacity="0.75"/><ellipse cx="26.0" cy="19.5" rx="4.4" ry="8.5" fill="#5f10f8" filter="url(#b1)" opacity="1.00"/><ellipse cx="21.5" cy="26.4" rx="10.0" ry="3.6" fill="#5f10f8" filter="url(#b1)" opacity="1.00"/><ellipse cx="14.0" cy="26.5" rx="3.4" ry="3.0" fill="#5f10f8" filter="url(#b1)" opacity="1.00"/><ellipse cx="29.6" cy="24.5" rx="2.6" ry="3.4" fill="#5f10f8" filter="url(#b1)" opacity="1.00"/><ellipse cx="40.2" cy="23.6" rx="7.4" ry="5.0" fill="#5f10f8" filter="url(#b1)" opacity="1.00"/><ellipse cx="36.8" cy="20.6" rx="2.6" ry="3.4" fill="#5f10f8" filter="url(#b1)" opacity="1.00"/><ellipse cx="44.5" cy="21.0" rx="2.6" ry="3.4" fill="#5f10f8" filter="url(#b1)" opacity="1.00"/><ellipse cx="25.8" cy="16.4" rx="1.5" ry="1.6" fill="#f4f0ff" filter="url(#b1)" opacity="1.00"/><ellipse cx="27.6" cy="13.5" rx="1.0" ry="1.0" fill="#e8e0ff" filter="url(#b1)" opacity="1.00"/><ellipse cx="39.4" cy="19.6" rx="1.2" ry="2.0" fill="#d8d0f0" filter="url(#b1)" opacity="0.90"/></g></g><g transform="translate(416.7 13.9)" clip-path="url(#pc)"><g filter="url(#soft)"><rect x="-3" y="-3" width="58" height="58" fill="#2b2b2b"/><rect x="0.7" y="0.7" width="50.2" height="3.5" fill="#5a5a5a"/><rect x="0.7" y="4.2" width="50.2" height="25.3" fill="#3c3c3c"/><rect x="0.7" y="29.2" width="50.2" height="21.6" fill="url(#fl)"/><rect x="0.7" y="28.9" width="50.2" height="1.4" fill="#5e5e5e"/><rect x="11.6" y="44.8" width="4" height="1.6" fill="#1e1e1e"/><rect x="38.2" y="44.8" width="4" height="1.6" fill="#1e1e1e"/><use href="#t" x="5.2" stroke="#8b6fe0" stroke-width="0.9"/><use href="#t" x="14.9" stroke="#8b6fe0" stroke-width="0.9"/><use href="#t" x="24.1" stroke="#8b6fe0" stroke-width="0.9"/><use href="#t" x="33.8" stroke="#8b6fe0" stroke-width="0.9"/><use href="#t" x="43.2" stroke="#8b6fe0" stroke-width="0.9"/><path d="M2.0 27.6l-1.6 2.6M8.4 27.6l1.6 2.6M3.0 10.4l-1.7 -2.6M7.4 10.4l1.7 -2.6" stroke="#8a8a8a" stroke-width="0.8" fill="none"/><use href="#m" x="5.2" fill="#d9cdf5"/><path d="M11.7 27.6l-1.6 2.6M18.1 27.6l1.6 2.6M12.7 10.4l-1.7 -2.6M17.1 10.4l1.7 -2.6" stroke="#8a8a8a" stroke-width="0.8" fill="none"/><use href="#m" x="14.9" fill="#d9cdf5"/><path d="M20.9 27.6l-1.6 2.6M27.3 27.6l1.6 2.6M21.9 10.4l-1.7 -2.6M26.3 10.4l1.7 -2.6" stroke="#8a8a8a" stroke-width="0.8" fill="none"/><use href="#m" x="24.1" fill="#d9cdf5"/><path d="M30.6 27.6l-1.6 2.6M37.0 27.6l1.6 2.6M31.6 10.4l-1.7 -2.6M36.0 10.4l1.7 -2.6" stroke="#8a8a8a" stroke-width="0.8" fill="none"/><use href="#m" x="33.8" fill="#d9cdf5"/><path d="M40.0 27.6l-1.6 2.6M46.4 27.6l1.6 2.6M41.0 10.4l-1.7 -2.6M45.4 10.4l1.7 -2.6" stroke="#8a8a8a" stroke-width="0.8" fill="none"/><use href="#m" x="43.2" fill="#d9cdf5"/><rect x="-3" y="-3" width="58" height="58" fill="#5a2fc8" opacity="0.55"/><ellipse cx="29.0" cy="18.5" rx="21.0" ry="13.5" fill="#6216ff" filter="url(#b2)" opacity="0.90"/><use href="#m" x="14.9" fill="#4a1cff" opacity="0.80"/><use href="#m" x="24.1" fill="#3a22ff" opacity="0.90"/><use href="#m" x="33.8" fill="#4a1cff" opacity="0.80"/><use href="#m" x="43.2" fill="#4a1cff" opacity="0.80"/><ellipse cx="4.8" cy="17.0" rx="2.2" ry="8.5" fill="#cfc0f4" filter="url(#b1)" opacity="0.95"/><ellipse cx="5.2" cy="8.0" rx="1.2" ry="2.0" fill="#b9a6f0" filter="url(#b1)" opacity="1.00"/><ellipse cx="24.5" cy="16.0" rx="3.4" ry="6.0" fill="#2d32ff" filter="url(#b1)" opacity="1.00"/><ellipse cx="21.5" cy="12.5" rx="1.4" ry="1.4" fill="#6a8cff" filter="url(#b1)" opacity="1.00"/><ellipse cx="25.4" cy="21.0" rx="6.4" ry="3.6" fill="#00d2ff" filter="url(#b1)" opacity="1.00"/><ellipse cx="25.0" cy="21.2" rx="4.4" ry="2.8" fill="#3cff5a" filter="url(#b1)" opacity="1.00"/><ellipse cx="24.6" cy="21.2" rx="2.60" ry="2.20" fill="#fff000" filter="url(#b1)"/><ellipse cx="24.6" cy="21.2" rx="1.59" ry="1.34" fill="#ff2a00" filter="url(#b1)"/><ellipse cx="29.6" cy="21.6" rx="1.3" ry="1.8" fill="#9af5ff" filter="url(#b1)" opacity="1.00"/><ellipse cx="24.6" cy="17.2" rx="1.6" ry="1.4" fill="#00d2ff" filter="url(#b1)" opacity="0.90"/><ellipse cx="21.4" cy="20.8" rx="1.0" ry="1.6" fill="#2a7cff" filter="url(#b1)" opacity="1.00"/><ellipse cx="42.4" cy="24.9" rx="2.90" ry="2.70" fill="#2d32ff" filter="url(#b1)"/><ellipse cx="42.4" cy="24.9" rx="2.45" ry="2.28" fill="#00d2ff" filter="url(#b1)"/><ellipse cx="42.4" cy="24.9" rx="2.00" ry="1.86" fill="#3cff5a" filter="url(#b1)"/><ellipse cx="42.4" cy="24.9" rx="1.54" ry="1.44" fill="#fff000" filter="url(#b1)"/><ellipse cx="42.4" cy="24.9" rx="1.09" ry="1.02" fill="#ff2a00" filter="url(#b1)"/><ellipse cx="12.2" cy="23.8" rx="1.0" ry="1.0" fill="#4a7cff" filter="url(#b1)" opacity="1.00"/><ellipse cx="49.0" cy="22.5" rx="1.0" ry="1.0" fill="#4a6cff" filter="url(#b1)" opacity="1.00"/></g></g><g transform="translate(242.7 68.3)" clip-path="url(#pc)"><g filter="url(#soft)"><rect x="-3" y="-3" width="58" height="58" fill="#2b2b2b"/><rect x="0.7" y="0.7" width="50.2" height="3.5" fill="#5a5a5a"/><rect x="0.7" y="4.2" width="50.2" height="25.3" fill="#3c3c3c"/><rect x="0.7" y="29.2" width="50.2" height="21.6" fill="url(#fl)"/><rect x="0.7" y="28.9" width="50.2" height="1.4" fill="#5e5e5e"/><rect x="11.6" y="44.8" width="4" height="1.6" fill="#1e1e1e"/><rect x="38.2" y="44.8" width="4" height="1.6" fill="#1e1e1e"/><use href="#t" x="5.9" stroke="#b4b4b4" stroke-width="0.9"/><use href="#t" x="15.6" stroke="#b4b4b4" stroke-width="0.9"/><use href="#t" x="24.8" stroke="#b4b4b4" stroke-width="0.9"/><use href="#t" x="34.5" stroke="#b4b4b4" stroke-width="0.9"/><use href="#t" x="43.9" stroke="#b4b4b4" stroke-width="0.9"/><path d="M2.7 27.6l-1.6 2.6M9.1 27.6l1.6 2.6M3.7 10.4l-1.7 -2.6M8.1 10.4l1.7 -2.6" stroke="#8a8a8a" stroke-width="0.8" fill="none"/><use href="#m" x="5.9" fill="#a9a9a9"/><use href="#m" transform="translate(5.9 0.3) scale(0.76 0.985)" fill="url(#mg)"/><path d="M4.7 10.2h2.4M3.7 13.6l1.2 1.6M8.1 13.6l-1.2 1.6" stroke="#8e8e8e" stroke-width="0.7" fill="none" opacity="0.75"/><path d="M12.4 27.6l-1.6 2.6M18.8 27.6l1.6 2.6M13.4 10.4l-1.7 -2.6M17.8 10.4l1.7 -2.6" stroke="#8a8a8a" stroke-width="0.8" fill="none"/><use href="#m" x="15.6" fill="#a9a9a9"/><use href="#m" transform="translate(15.6 0.3) scale(0.76 0.985)" fill="url(#mg)"/><path d="M14.4 10.2h2.4M13.4 13.6l1.2 1.6M17.8 13.6l-1.2 1.6" stroke="#8e8e8e" stroke-width="0.7" fill="none" opacity="0.75"/><path d="M21.6 27.6l-1.6 2.6M28.0 27.6l1.6 2.6M22.6 10.4l-1.7 -2.6M27.0 10.4l1.7 -2.6" stroke="#8a8a8a" stroke-width="0.8" fill="none"/><use href="#m" x="24.8" fill="#a9a9a9"/><use href="#m" transform="translate(24.8 0.3) scale(0.76 0.985)" fill="url(#mg)"/><path d="M23.6 10.2h2.4M22.6 13.6l1.2 1.6M27.0 13.6l-1.2 1.6" stroke="#8e8e8e" stroke-width="0.7" fill="none" opacity="0.75"/><path d="M31.3 27.6l-1.6 2.6M37.7 27.6l1.6 2.6M32.3 10.4l-1.7 -2.6M36.7 10.4l1.7 -2.6" stroke="#8a8a8a" stroke-width="0.8" fill="none"/><use href="#m" x="34.5" fill="#a9a9a9"/><use href="#m" transform="translate(34.5 0.3) scale(0.76 0.985)" fill="url(#mg)"/><path d="M33.3 10.2h2.4M32.3 13.6l1.2 1.6M36.7 13.6l-1.2 1.6" stroke="#8e8e8e" stroke-width="0.7" fill="none" opacity="0.75"/><path d="M40.7 27.6l-1.6 2.6M47.1 27.6l1.6 2.6M41.7 10.4l-1.7 -2.6M46.1 10.4l1.7 -2.6" stroke="#8a8a8a" stroke-width="0.8" fill="none"/><use href="#m" x="43.9" fill="#a9a9a9"/><use href="#m" transform="translate(43.9 0.3) scale(0.76 0.985)" fill="url(#mg)"/><path d="M42.7 10.2h2.4M41.7 13.6l1.2 1.6M46.1 13.6l-1.2 1.6" stroke="#8e8e8e" stroke-width="0.7" fill="none" opacity="0.75"/><ellipse cx="15.2" cy="26.2" rx="3.4" ry="2.4" fill="#5f10f8" filter="url(#b1)" opacity="1.00"/><ellipse cx="25.4" cy="26.2" rx="3.8" ry="2.6" fill="#5f10f8" filter="url(#b1)" opacity="1.00"/><ellipse cx="36.4" cy="26.0" rx="3.6" ry="2.6" fill="#5f10f8" filter="url(#b1)" opacity="1.00"/><ellipse cx="46.6" cy="25.8" rx="3.0" ry="2.6" fill="#5f10f8" filter="url(#b1)" opacity="1.00"/><ellipse cx="25.4" cy="13.2" rx="3.2" ry="1.9" fill="#5f10f8" filter="url(#b1)" opacity="1.00"/><ellipse cx="35.6" cy="13.0" rx="1.6" ry="1.0" fill="#5f10f8" filter="url(#b1)" opacity="0.80"/><ellipse cx="17.5" cy="22.5" rx="1.0" ry="1.4" fill="#5f10f8" filter="url(#b1)" opacity="0.70"/></g></g><g transform="translate(300.6 68.3)" clip-path="url(#pc)"><g filter="url(#soft)"><rect x="-3" y="-3" width="58" height="58" fill="#2b2b2b"/><rect x="0.7" y="0.7" width="50.2" height="3.5" fill="#5a5a5a"/><rect x="0.7" y="4.2" width="50.2" height="25.3" fill="#3c3c3c"/><rect x="0.7" y="29.2" width="50.2" height="21.6" fill="url(#fl)"/><rect x="0.7" y="28.9" width="50.2" height="1.4" fill="#5e5e5e"/><rect x="11.6" y="44.8" width="4" height="1.6" fill="#1e1e1e"/><rect x="38.2" y="44.8" width="4" height="1.6" fill="#1e1e1e"/><use href="#t" x="6.9" stroke="#b4b4b4" stroke-width="0.9"/><use href="#t" x="16.6" stroke="#b4b4b4" stroke-width="0.9"/><use href="#t" x="25.8" stroke="#b4b4b4" stroke-width="0.9"/><use href="#t" x="35.5" stroke="#b4b4b4" stroke-width="0.9"/><use href="#t" x="44.9" stroke="#b4b4b4" stroke-width="0.9"/><path d="M3.7 27.6l-1.6 2.6M10.1 27.6l1.6 2.6M4.7 10.4l-1.7 -2.6M9.1 10.4l1.7 -2.6" stroke="#8a8a8a" stroke-width="0.8" fill="none"/><use href="#m" x="6.9" fill="#a9a9a9"/><use href="#m" transform="translate(6.9 0.3) scale(0.76 0.985)" fill="url(#mg)"/><path d="M5.7 10.2h2.4M4.7 13.6l1.2 1.6M9.1 13.6l-1.2 1.6" stroke="#8e8e8e" stroke-width="0.7" fill="none" opacity="0.75"/><path d="M13.4 27.6l-1.6 2.6M19.8 27.6l1.6 2.6M14.4 10.4l-1.7 -2.6M18.8 10.4l1.7 -2.6" stroke="#8a8a8a" stroke-width="0.8" fill="none"/><use href="#m" x="16.6" fill="#a9a9a9"/><use href="#m" transform="translate(16.6 0.3) scale(0.76 0.985)" fill="url(#mg)"/><path d="M15.4 10.2h2.4M14.4 13.6l1.2 1.6M18.8 13.6l-1.2 1.6" stroke="#8e8e8e" stroke-width="0.7" fill="none" opacity="0.75"/><path d="M22.6 27.6l-1.6 2.6M29.0 27.6l1.6 2.6M23.6 10.4l-1.7 -2.6M28.0 10.4l1.7 -2.6" stroke="#8a8a8a" stroke-width="0.8" fill="none"/><use href="#m" x="25.8" fill="#a9a9a9"/><use href="#m" transform="translate(25.8 0.3) scale(0.76 0.985)" fill="url(#mg)"/><path d="M24.6 10.2h2.4M23.6 13.6l1.2 1.6M28.0 13.6l-1.2 1.6" stroke="#8e8e8e" stroke-width="0.7" fill="none" opacity="0.75"/><path d="M32.3 27.6l-1.6 2.6M38.7 27.6l1.6 2.6M33.3 10.4l-1.7 -2.6M37.7 10.4l1.7 -2.6" stroke="#8a8a8a" stroke-width="0.8" fill="none"/><use href="#m" x="35.5" fill="#a9a9a9"/><use href="#m" transform="translate(35.5 0.3) scale(0.76 0.985)" fill="url(#mg)"/><path d="M34.3 10.2h2.4M33.3 13.6l1.2 1.6M37.7 13.6l-1.2 1.6" stroke="#8e8e8e" stroke-width="0.7" fill="none" opacity="0.75"/><path d="M41.7 27.6l-1.6 2.6M48.1 27.6l1.6 2.6M42.7 10.4l-1.7 -2.6M47.1 10.4l1.7 -2.6" stroke="#8a8a8a" stroke-width="0.8" fill="none"/><use href="#m" x="44.9" fill="#a9a9a9"/><use href="#m" transform="translate(44.9 0.3) scale(0.76 0.985)" fill="url(#mg)"/><path d="M43.7 10.2h2.4M42.7 13.6l1.2 1.6M47.1 13.6l-1.2 1.6" stroke="#8e8e8e" stroke-width="0.7" fill="none" opacity="0.75"/><ellipse cx="6.6" cy="25.4" rx="3.8" ry="3.1" fill="#5f10f8" filter="url(#b1)" opacity="1.00"/><ellipse cx="26.0" cy="25.4" rx="14.0" ry="4.6" fill="#5f10f8" filter="url(#b1)" opacity="1.00"/><ellipse cx="16.6" cy="25.2" rx="4.6" ry="4.4" fill="#5f10f8" filter="url(#b1)" opacity="1.00"/><ellipse cx="25.8" cy="25.2" rx="4.6" ry="4.4" fill="#5f10f8" filter="url(#b1)" opacity="1.00"/><ellipse cx="35.5" cy="25.2" rx="4.6" ry="4.4" fill="#5f10f8" filter="url(#b1)" opacity="1.00"/><ellipse cx="45.8" cy="26.2" rx="4.7" ry="4.4" fill="#5f10f8" filter="url(#b1)" opacity="1.00"/><ellipse cx="25.2" cy="15.5" rx="4.6" ry="8.5" fill="#5f10f8" filter="url(#b1)" opacity="1.00"/><ellipse cx="35.4" cy="19.5" rx="2.8" ry="4.5" fill="#5f10f8" filter="url(#b1)" opacity="1.00"/><ellipse cx="21.4" cy="21.5" rx="2.2" ry="3.0" fill="#5f10f8" filter="url(#b1)" opacity="1.00"/><ellipse cx="16.5" cy="12.6" rx="1.6" ry="1.0" fill="#5f10f8" filter="url(#b1)" opacity="1.00"/><ellipse cx="7.4" cy="13.4" rx="1.2" ry="0.8" fill="#5f10f8" filter="url(#b1)" opacity="0.80"/><ellipse cx="45.0" cy="13.8" rx="1.2" ry="0.8" fill="#5f10f8" filter="url(#b1)" opacity="0.80"/><ellipse cx="24.6" cy="19.8" rx="1.5" ry="1.2" fill="#efe8ff" filter="url(#b1)" opacity="1.00"/><ellipse cx="27.4" cy="11.6" rx="1.0" ry="1.0" fill="#e0d6ff" filter="url(#b1)" opacity="1.00"/></g></g><g transform="translate(358.2 68.3)" clip-path="url(#pc)"><g filter="url(#soft)"><rect x="-3" y="-3" width="58" height="58" fill="#2b2b2b"/><rect x="0.7" y="0.7" width="50.2" height="3.5" fill="#5a5a5a"/><rect x="0.7" y="4.2" width="50.2" height="25.3" fill="#3c3c3c"/><rect x="0.7" y="29.2" width="50.2" height="21.6" fill="url(#fl)"/><rect x="0.7" y="28.9" width="50.2" height="1.4" fill="#5e5e5e"/><rect x="11.6" y="44.8" width="4" height="1.6" fill="#1e1e1e"/><rect x="38.2" y="44.8" width="4" height="1.6" fill="#1e1e1e"/><use href="#t" x="6.0" stroke="#9a8cc8" stroke-width="0.9"/><use href="#t" x="15.7" stroke="#9a8cc8" stroke-width="0.9"/><use href="#t" x="24.9" stroke="#9a8cc8" stroke-width="0.9"/><use href="#t" x="34.6" stroke="#9a8cc8" stroke-width="0.9"/><use href="#t" x="44.0" stroke="#9a8cc8" stroke-width="0.9"/><path d="M2.8 27.6l-1.6 2.6M9.2 27.6l1.6 2.6M3.8 10.4l-1.7 -2.6M8.2 10.4l1.7 -2.6" stroke="#8a8a8a" stroke-width="0.8" fill="none"/><use href="#m" x="6.0" fill="#cfc3f2"/><path d="M12.5 27.6l-1.6 2.6M18.9 27.6l1.6 2.6M13.5 10.4l-1.7 -2.6M17.9 10.4l1.7 -2.6" stroke="#8a8a8a" stroke-width="0.8" fill="none"/><use href="#m" x="15.7" fill="#cfc3f2"/><path d="M21.7 27.6l-1.6 2.6M28.1 27.6l1.6 2.6M22.7 10.4l-1.7 -2.6M27.1 10.4l1.7 -2.6" stroke="#8a8a8a" stroke-width="0.8" fill="none"/><use href="#m" x="24.9" fill="#cfc3f2"/><path d="M31.4 27.6l-1.6 2.6M37.8 27.6l1.6 2.6M32.4 10.4l-1.7 -2.6M36.8 10.4l1.7 -2.6" stroke="#8a8a8a" stroke-width="0.8" fill="none"/><use href="#m" x="34.6" fill="#cfc3f2"/><path d="M40.8 27.6l-1.6 2.6M47.2 27.6l1.6 2.6M41.8 10.4l-1.7 -2.6M46.2 10.4l1.7 -2.6" stroke="#8a8a8a" stroke-width="0.8" fill="none"/><use href="#m" x="44.0" fill="#cfc3f2"/><rect x="-3" y="-3" width="58" height="58" fill="#2e2640" opacity="0.25"/><ellipse cx="26.0" cy="19.0" rx="23.0" ry="11.5" fill="#6a18ff" filter="url(#b2)" opacity="0.75"/><use href="#m" x="6.0" fill="#6a18ff" opacity="0.93"/><use href="#m" x="15.7" fill="#6a18ff" opacity="0.93"/><use href="#m" x="24.9" fill="#6a18ff" opacity="0.93"/><use href="#m" x="34.6" fill="#6a18ff" opacity="0.93"/><use href="#m" x="44.0" fill="#6a18ff" opacity="0.93"/><ellipse cx="26.0" cy="24.5" rx="23.0" ry="4.6" fill="#6a18ff" filter="url(#b1)" opacity="0.90"/><ellipse cx="6.0" cy="17.6" rx="1.3" ry="2.6" fill="#e8e0fa" filter="url(#b1)" opacity="0.90"/><ellipse cx="45.0" cy="18.6" rx="1.3" ry="2.8" fill="#e8e0fa" filter="url(#b1)" opacity="0.90"/><ellipse cx="15.0" cy="9.6" rx="0.9" ry="2.6" fill="#d8cff5" filter="url(#b1)" opacity="0.80"/><ellipse cx="6.6" cy="7.6" rx="1.1" ry="1.6" fill="#c8bcf0" filter="url(#b1)" opacity="0.80"/><ellipse cx="44.6" cy="8.0" rx="1.0" ry="1.4" fill="#b8a8f0" filter="url(#b1)" opacity="0.70"/><ellipse cx="31.4" cy="24.4" rx="6.4" ry="4.0" fill="#2a30ff" filter="url(#b1)" opacity="1.00"/><ellipse cx="28.2" cy="27.0" rx="2.0" ry="1.5" fill="#7ae6ff" filter="url(#b1)" opacity="1.00"/><ellipse cx="34.2" cy="23.4" rx="1.9" ry="1.5" fill="#5adcff" filter="url(#b1)" opacity="1.00"/><ellipse cx="31.0" cy="22.4" rx="1.5" ry="1.1" fill="#00d2ff" filter="url(#b1)" opacity="0.90"/><ellipse cx="28.0" cy="27.2" rx="0.9" ry="0.7" fill="#c8ffd0" filter="url(#b1)" opacity="1.00"/><ellipse cx="36.0" cy="25.6" rx="1.2" ry="1.0" fill="#2aa0ff" filter="url(#b1)" opacity="1.00"/></g></g><g transform="translate(416.7 68.3)" clip-path="url(#pc)"><g filter="url(#soft)"><rect x="-3" y="-3" width="58" height="58" fill="#6a2ce6" opacity="1.00"/><rect x="-3" y="-3" width="58" height="4.0" fill="#5b2bb8"/><rect x="2.5" y="9.5" width="47.5" height="17.5" rx="5" fill="#3c28ff" filter="url(#b2)"/><ellipse cx="27.0" cy="18.0" rx="22.5" ry="7.6" fill="#3422ff" filter="url(#b1)" opacity="0.90"/><ellipse cx="7.4" cy="19.4" rx="3.6" ry="6.4" fill="#2a7cff" filter="url(#b1)" opacity="0.95"/><ellipse cx="16.4" cy="19.4" rx="3.6" ry="6.6" fill="#2a8cff" filter="url(#b1)" opacity="0.95"/><ellipse cx="5.6" cy="21.4" rx="2.4" ry="2.6" fill="#00d2ff" filter="url(#b1)" opacity="1.00"/><ellipse cx="11.4" cy="21.6" rx="4.2" ry="2.6" fill="#00d2ff" filter="url(#b1)" opacity="1.00"/><ellipse cx="11.6" cy="21.6" rx="2.8" ry="1.7" fill="#3cff5a" filter="url(#b1)" opacity="1.00"/><ellipse cx="16.6" cy="22.4" rx="2.6" ry="2.4" fill="#00d2ff" filter="url(#b1)" opacity="1.00"/><ellipse cx="8.6" cy="24.6" rx="2.2" ry="1.5" fill="#00d2ff" filter="url(#b1)" opacity="1.00"/><ellipse cx="8.0" cy="14.0" rx="2.2" ry="2.2" fill="#00d2ff" filter="url(#b1)" opacity="1.00"/><ellipse cx="8.0" cy="14.0" rx="0.9" ry="0.9" fill="#3c26ff" filter="url(#b1)" opacity="1.00"/><ellipse cx="4.4" cy="17.4" rx="1.2" ry="1.4" fill="#00d2ff" filter="url(#b1)" opacity="1.00"/><ellipse cx="18.8" cy="15.6" rx="2.0" ry="4.6" fill="#00d2ff" filter="url(#b1)" opacity="1.00"/><ellipse cx="17.6" cy="16.2" rx="0.9" ry="2.6" fill="#3422ff" filter="url(#b1)" opacity="1.00"/><ellipse cx="19.6" cy="20.0" rx="1.6" ry="2.0" fill="#00d2ff" filter="url(#b1)" opacity="1.00"/><ellipse cx="14.4" cy="16.0" rx="1.1" ry="1.1" fill="#9af5ff" filter="url(#b1)" opacity="1.00"/><ellipse cx="14.4" cy="26.4" rx="1.6" ry="1.1" fill="#ffb000" filter="url(#b1)" opacity="1.00"/><ellipse cx="12.0" cy="24.8" rx="1.6" ry="1.0" fill="#3cff5a" filter="url(#b1)" opacity="1.00"/><ellipse cx="9.4" cy="20.6" rx="1.2" ry="0.9" fill="#3cff5a" filter="url(#b1)" opacity="1.00"/><ellipse cx="25.7" cy="18.6" rx="4.3" ry="9.8" fill="#00d2ff" filter="url(#b1)" opacity="1.00"/><ellipse cx="25.7" cy="18.4" rx="3.3" ry="8.4" fill="#3cff5a" filter="url(#b1)" opacity="1.00"/><ellipse cx="24.9" cy="10.6" rx="2.4" ry="2.0" fill="#00d2ff" filter="url(#b1)" opacity="1.00"/><ellipse cx="26.6" cy="12.2" rx="1.7" ry="1.5" fill="#3cff5a" filter="url(#b1)" opacity="1.00"/><ellipse cx="25.4" cy="16.0" rx="2.5" ry="3.6" fill="#fff000" filter="url(#b1)" opacity="1.00"/><ellipse cx="26.6" cy="22.0" rx="2.7" ry="3.4" fill="#fff000" filter="url(#b1)" opacity="1.00"/><ellipse cx="24.9" cy="16.0" rx="1.7" ry="2.8" fill="#ff2a00" filter="url(#b1)" opacity="1.00"/><ellipse cx="27.0" cy="22.2" rx="1.9" ry="2.5" fill="#ff2a00" filter="url(#b1)" opacity="1.00"/><ellipse cx="25.4" cy="26.0" rx="1.5" ry="1.5" fill="#ff2a00" filter="url(#b1)" opacity="1.00"/><ellipse cx="28.4" cy="14.4" rx="0.9" ry="1.3" fill="#9af5ff" filter="url(#b1)" opacity="1.00"/><ellipse cx="23.0" cy="20.5" rx="0.9" ry="1.8" fill="#9af5ff" filter="url(#b1)" opacity="1.00"/><ellipse cx="35.8" cy="17.8" rx="3.9" ry="8.2" fill="#00d2ff" filter="url(#b1)" opacity="1.00"/><ellipse cx="34.4" cy="11.4" rx="1.6" ry="1.7" fill="#7ae6ff" filter="url(#b1)" opacity="1.00"/><ellipse cx="35.0" cy="14.4" rx="1.5" ry="1.8" fill="#d0fbff" filter="url(#b1)" opacity="1.00"/><ellipse cx="34.6" cy="18.2" rx="1.9" ry="2.1" fill="#3cff5a" filter="url(#b1)" opacity="1.00"/><ellipse cx="37.0" cy="21.8" rx="2.9" ry="2.7" fill="#3cff5a" filter="url(#b1)" opacity="1.00"/><ellipse cx="37.0" cy="22.0" rx="2.3" ry="2.1" fill="#fff000" filter="url(#b1)" opacity="1.00"/><ellipse cx="37.2" cy="22.2" rx="1.6" ry="1.5" fill="#ff2a00" filter="url(#b1)" opacity="1.00"/><ellipse cx="37.6" cy="24.8" rx="1.4" ry="1.6" fill="#ff2a00" filter="url(#b1)" opacity="1.00"/><ellipse cx="39.3" cy="16.0" rx="0.9" ry="2.4" fill="#3422ff" filter="url(#b1)" opacity="1.00"/><ellipse cx="44.6" cy="19.6" rx="3.0" ry="5.6" fill="#2a7cff" filter="url(#b1)" opacity="0.95"/><ellipse cx="43.4" cy="18.4" rx="1.6" ry="3.0" fill="#00d2ff" filter="url(#b1)" opacity="1.00"/><ellipse cx="45.8" cy="22.0" rx="1.9" ry="2.4" fill="#00d2ff" filter="url(#b1)" opacity="1.00"/><ellipse cx="49.2" cy="23.8" rx="1.8" ry="1.6" fill="#00d2ff" filter="url(#b1)" opacity="1.00"/><ellipse cx="47.4" cy="25.6" rx="1.2" ry="1.0" fill="#00d2ff" filter="url(#b1)" opacity="1.00"/><ellipse cx="50.6" cy="22.0" rx="0.8" ry="1.2" fill="#c8faff" filter="url(#b1)" opacity="1.00"/></g></g><g transform="translate(185.2 123.6)" clip-path="url(#pc)"><g filter="url(#soft)"><rect x="-3" y="-3" width="58" height="58" fill="#2b2b2b"/><rect x="0.7" y="0.7" width="50.2" height="3.5" fill="#5a5a5a"/><rect x="0.7" y="4.2" width="50.2" height="25.3" fill="#3c3c3c"/><rect x="0.7" y="29.2" width="50.2" height="21.6" fill="url(#fl)"/><rect x="0.7" y="28.9" width="50.2" height="1.4" fill="#5e5e5e"/><rect x="11.6" y="44.8" width="4" height="1.6" fill="#1e1e1e"/><rect x="38.2" y="44.8" width="4" height="1.6" fill="#1e1e1e"/><use href="#t" x="6.0" stroke="#b4b4b4" stroke-width="0.9"/><use href="#t" x="15.7" stroke="#b4b4b4" stroke-width="0.9"/><use href="#t" x="24.9" stroke="#b4b4b4" stroke-width="0.9"/><use href="#t" x="34.6" stroke="#b4b4b4" stroke-width="0.9"/><use href="#t" x="44.0" stroke="#b4b4b4" stroke-width="0.9"/><path d="M2.8 27.6l-1.6 2.6M9.2 27.6l1.6 2.6M3.8 10.4l-1.7 -2.6M8.2 10.4l1.7 -2.6" stroke="#8a8a8a" stroke-width="0.8" fill="none"/><use href="#m" x="6.0" fill="#a9a9a9"/><use href="#m" transform="translate(6.0 0.3) scale(0.76 0.985)" fill="url(#mg)"/><path d="M4.8 10.2h2.4M3.8 13.6l1.2 1.6M8.2 13.6l-1.2 1.6" stroke="#8e8e8e" stroke-width="0.7" fill="none" opacity="0.75"/><path d="M12.5 27.6l-1.6 2.6M18.9 27.6l1.6 2.6M13.5 10.4l-1.7 -2.6M17.9 10.4l1.7 -2.6" stroke="#8a8a8a" stroke-width="0.8" fill="none"/><use href="#m" x="15.7" fill="#a9a9a9"/><use href="#m" transform="translate(15.7 0.3) scale(0.76 0.985)" fill="url(#mg)"/><path d="M14.5 10.2h2.4M13.5 13.6l1.2 1.6M17.9 13.6l-1.2 1.6" stroke="#8e8e8e" stroke-width="0.7" fill="none" opacity="0.75"/><path d="M21.7 27.6l-1.6 2.6M28.1 27.6l1.6 2.6M22.7 10.4l-1.7 -2.6M27.1 10.4l1.7 -2.6" stroke="#8a8a8a" stroke-width="0.8" fill="none"/><use href="#m" x="24.9" fill="#a9a9a9"/><use href="#m" transform="translate(24.9 0.3) scale(0.76 0.985)" fill="url(#mg)"/><path d="M23.7 10.2h2.4M22.7 13.6l1.2 1.6M27.1 13.6l-1.2 1.6" stroke="#8e8e8e" stroke-width="0.7" fill="none" opacity="0.75"/><path d="M31.4 27.6l-1.6 2.6M37.8 27.6l1.6 2.6M32.4 10.4l-1.7 -2.6M36.8 10.4l1.7 -2.6" stroke="#8a8a8a" stroke-width="0.8" fill="none"/><use href="#m" x="34.6" fill="#a9a9a9"/><use href="#m" transform="translate(34.6 0.3) scale(0.76 0.985)" fill="url(#mg)"/><path d="M33.4 10.2h2.4M32.4 13.6l1.2 1.6M36.8 13.6l-1.2 1.6" stroke="#8e8e8e" stroke-width="0.7" fill="none" opacity="0.75"/><path d="M40.8 27.6l-1.6 2.6M47.2 27.6l1.6 2.6M41.8 10.4l-1.7 -2.6M46.2 10.4l1.7 -2.6" stroke="#8a8a8a" stroke-width="0.8" fill="none"/><use href="#m" x="44.0" fill="#a9a9a9"/><use href="#m" transform="translate(44.0 0.3) scale(0.76 0.985)" fill="url(#mg)"/><path d="M42.8 10.2h2.4M41.8 13.6l1.2 1.6M46.2 13.6l-1.2 1.6" stroke="#8e8e8e" stroke-width="0.7" fill="none" opacity="0.75"/><ellipse cx="31.0" cy="25.6" rx="18.0" ry="2.6" fill="#5f10f8" filter="url(#b1)" opacity="1.00"/><ellipse cx="15.7" cy="25.2" rx="4.4" ry="3.1" fill="#5f10f8" filter="url(#b1)" opacity="1.00"/><ellipse cx="24.9" cy="25.2" rx="4.4" ry="3.1" fill="#5f10f8" filter="url(#b1)" opacity="1.00"/><ellipse cx="34.6" cy="25.2" rx="4.4" ry="3.1" fill="#5f10f8" filter="url(#b1)" opacity="1.00"/><ellipse cx="44.0" cy="25.2" rx="4.4" ry="3.1" fill="#5f10f8" filter="url(#b1)" opacity="1.00"/><ellipse cx="6.0" cy="26.6" rx="3.6" ry="1.6" fill="#5f10f8" filter="url(#b1)" opacity="0.55"/><ellipse cx="21.0" cy="27.6" rx="3.0" ry="1.6" fill="#5f10f8" filter="url(#b1)" opacity="1.00"/><ellipse cx="40.0" cy="27.8" rx="3.0" ry="1.4" fill="#5f10f8" filter="url(#b1)" opacity="1.00"/><ellipse cx="15.7" cy="12.2" rx="2.4" ry="1.4" fill="#5f10f8" filter="url(#b1)" opacity="1.00"/><ellipse cx="24.9" cy="12.2" rx="3.0" ry="1.6" fill="#5f10f8" filter="url(#b1)" opacity="1.00"/><ellipse cx="34.6" cy="12.2" rx="3.0" ry="1.7" fill="#5f10f8" filter="url(#b1)" opacity="1.00"/><ellipse cx="44.0" cy="12.4" rx="2.4" ry="1.5" fill="#5f10f8" filter="url(#b1)" opacity="1.00"/><ellipse cx="30.4" cy="12.8" rx="2.0" ry="1.5" fill="#5f10f8" filter="url(#b1)" opacity="1.00"/><ellipse cx="7.5" cy="12.4" rx="1.4" ry="1.0" fill="#5f10f8" filter="url(#b1)" opacity="0.70"/></g></g><g transform="translate(242.7 123.6)" clip-path="url(#pc)"><g filter="url(#soft)"><rect x="-3" y="-3" width="58" height="58" fill="#2b2b2b"/><rect x="0.7" y="0.7" width="50.2" height="3.5" fill="#5a5a5a"/><rect x="0.7" y="4.2" width="50.2" height="25.3" fill="#3c3c3c"/><rect x="0.7" y="29.2" width="50.2" height="21.6" fill="url(#fl)"/><rect x="0.7" y="28.9" width="50.2" height="1.4" fill="#5e5e5e"/><rect x="11.6" y="44.8" width="4" height="1.6" fill="#1e1e1e"/><rect x="38.2" y="44.8" width="4" height="1.6" fill="#1e1e1e"/><use href="#t" x="6.0" stroke="#a59ac8" stroke-width="0.9"/><use href="#t" x="15.7" stroke="#a59ac8" stroke-width="0.9"/><use href="#t" x="24.9" stroke="#a59ac8" stroke-width="0.9"/><use href="#t" x="34.6" stroke="#a59ac8" stroke-width="0.9"/><use href="#t" x="44.0" stroke="#a59ac8" stroke-width="0.9"/><path d="M2.8 27.6l-1.6 2.6M9.2 27.6l1.6 2.6M3.8 10.4l-1.7 -2.6M8.2 10.4l1.7 -2.6" stroke="#8a8a8a" stroke-width="0.8" fill="none"/><use href="#m" x="6.0" fill="#e6def8"/><path d="M12.5 27.6l-1.6 2.6M18.9 27.6l1.6 2.6M13.5 10.4l-1.7 -2.6M17.9 10.4l1.7 -2.6" stroke="#8a8a8a" stroke-width="0.8" fill="none"/><use href="#m" x="15.7" fill="#e6def8"/><path d="M21.7 27.6l-1.6 2.6M28.1 27.6l1.6 2.6M22.7 10.4l-1.7 -2.6M27.1 10.4l1.7 -2.6" stroke="#8a8a8a" stroke-width="0.8" fill="none"/><use href="#m" x="24.9" fill="#e6def8"/><path d="M31.4 27.6l-1.6 2.6M37.8 27.6l1.6 2.6M32.4 10.4l-1.7 -2.6M36.8 10.4l1.7 -2.6" stroke="#8a8a8a" stroke-width="0.8" fill="none"/><use href="#m" x="34.6" fill="#e6def8"/><path d="M40.8 27.6l-1.6 2.6M47.2 27.6l1.6 2.6M41.8 10.4l-1.7 -2.6M46.2 10.4l1.7 -2.6" stroke="#8a8a8a" stroke-width="0.8" fill="none"/><use href="#m" x="44.0" fill="#e6def8"/><rect x="-3" y="-3" width="58" height="58" fill="#2a2438" opacity="0.25"/><ellipse cx="26.0" cy="18.5" rx="23.0" ry="11.5" fill="#6a18ff" filter="url(#b2)" opacity="0.70"/><use href="#m" x="6.0" fill="#6a18ff" opacity="0.95"/><use href="#m" x="15.7" fill="#6a18ff" opacity="0.95"/><use href="#m" x="24.9" fill="#6a18ff" opacity="0.95"/><use href="#m" x="34.6" fill="#6a18ff" opacity="0.95"/><use href="#m" x="44.0" fill="#6a18ff" opacity="0.95"/><ellipse cx="26.0" cy="24.5" rx="23.5" ry="4.4" fill="#6a18ff" filter="url(#b1)" opacity="1.00"/><ellipse cx="6.0" cy="29.5" rx="1.2" ry="3.2" fill="#6a18ff" filter="url(#b1)" opacity="0.80"/><ellipse cx="15.7" cy="29.5" rx="1.2" ry="3.2" fill="#6a18ff" filter="url(#b1)" opacity="0.80"/><ellipse cx="24.9" cy="29.5" rx="1.2" ry="3.2" fill="#6a18ff" filter="url(#b1)" opacity="0.80"/><ellipse cx="34.6" cy="29.5" rx="1.2" ry="3.2" fill="#6a18ff" filter="url(#b1)" opacity="0.80"/><ellipse cx="44.0" cy="29.5" rx="1.2" ry="3.2" fill="#6a18ff" filter="url(#b1)" opacity="0.80"/><ellipse cx="5.4" cy="14.6" rx="2.0" ry="4.6" fill="#f6f0ff" filter="url(#b1)" opacity="1.00"/><ellipse cx="7.6" cy="10.2" rx="1.3" ry="2.0" fill="#e9dcff" filter="url(#b1)" opacity="1.00"/><ellipse cx="17.0" cy="20.2" rx="1.9" ry="1.3" fill="#ffeefc" filter="url(#b1)" opacity="1.00"/><ellipse cx="25.8" cy="19.6" rx="1.5" ry="1.1" fill="#ffd8f4" filter="url(#b1)" opacity="1.00"/><ellipse cx="35.6" cy="18.3" rx="1.6" ry="1.7" fill="#fff" filter="url(#b1)" opacity="1.00"/><ellipse cx="45.3" cy="19.6" rx="2.0" ry="1.2" fill="#ffeefc" filter="url(#b1)" opacity="1.00"/><ellipse cx="41.4" cy="11.5" rx="0.9" ry="1.6" fill="#d8cff5" filter="url(#b1)" opacity="1.00"/><ellipse cx="13.9" cy="24.0" rx="1.5" ry="1.3" fill="#2d32ff" filter="url(#b1)" opacity="1.00"/><ellipse cx="21.4" cy="23.4" rx="1.7" ry="1.4" fill="#2d32ff" filter="url(#b1)" opacity="1.00"/><ellipse cx="30.0" cy="23.4" rx="1.7" ry="1.4" fill="#2d32ff" filter="url(#b1)" opacity="1.00"/><ellipse cx="39.0" cy="24.0" rx="1.2" ry="1.1" fill="#2d32ff" filter="url(#b1)" opacity="0.80"/></g></g><g transform="translate(300.6 123.6)" clip-path="url(#pc)"><g filter="url(#soft)"><rect x="-3" y="-3" width="58" height="58" fill="#2b2b2b"/><rect x="0.7" y="0.7" width="50.2" height="3.5" fill="#5a5a5a"/><rect x="0.7" y="4.2" width="50.2" height="25.3" fill="#3c3c3c"/><rect x="0.7" y="29.2" width="50.2" height="21.6" fill="url(#fl)"/><rect x="0.7" y="28.9" width="50.2" height="1.4" fill="#5e5e5e"/><rect x="11.6" y="44.8" width="4" height="1.6" fill="#1e1e1e"/><rect x="38.2" y="44.8" width="4" height="1.6" fill="#1e1e1e"/><rect x="-3" y="-3" width="58" height="58" fill="#3c3060" opacity="0.34"/><ellipse cx="12.0" cy="19.5" rx="11.5" ry="12.5" fill="#6a18ff" filter="url(#b2)" opacity="0.55"/><ellipse cx="45.0" cy="19.5" rx="7.5" ry="12.5" fill="#6a18ff" filter="url(#b2)" opacity="0.55"/><ellipse cx="7.2" cy="19.5" rx="6.0" ry="11.5" fill="#6a18ff" filter="url(#b2)" opacity="0.90"/><ellipse cx="16.6" cy="19.5" rx="6.0" ry="11.5" fill="#6a18ff" filter="url(#b2)" opacity="0.90"/><ellipse cx="45.0" cy="19.5" rx="6.0" ry="11.5" fill="#6a18ff" filter="url(#b2)" opacity="0.90"/><ellipse cx="7.2" cy="18.0" rx="4.1" ry="10.2" fill="#5a14ff" filter="url(#b1)" opacity="0.95"/><ellipse cx="16.6" cy="18.0" rx="4.1" ry="10.2" fill="#5a14ff" filter="url(#b1)" opacity="0.95"/><ellipse cx="45.0" cy="18.0" rx="4.1" ry="10.2" fill="#5a14ff" filter="url(#b1)" opacity="0.95"/><ellipse cx="7.6" cy="37.0" rx="1.0" ry="8.5" fill="#6a18ff" filter="url(#b1)" opacity="0.75"/><ellipse cx="17.0" cy="37.0" rx="1.0" ry="8.5" fill="#6a18ff" filter="url(#b1)" opacity="0.75"/><ellipse cx="45.4" cy="37.0" rx="1.0" ry="8.5" fill="#6a18ff" filter="url(#b1)" opacity="0.75"/><ellipse cx="8.2" cy="25.4" rx="4.60" ry="2.70" fill="#2d32ff" filter="url(#b1)"/><ellipse cx="8.2" cy="25.4" rx="2.81" ry="1.65" fill="#00d2ff" filter="url(#b1)"/><ellipse cx="10.4" cy="24.6" rx="1.7" ry="1.4" fill="#66ffd0" filter="url(#b1)" opacity="1.00"/><ellipse cx="5.2" cy="24.6" rx="1.3" ry="1.5" fill="#00d2ff" filter="url(#b1)" opacity="1.00"/><ellipse cx="17.8" cy="26.0" rx="5.40" ry="2.90" fill="#2d32ff" filter="url(#b1)"/><ellipse cx="17.8" cy="26.0" rx="4.00" ry="2.15" fill="#00d2ff" filter="url(#b1)"/><ellipse cx="17.8" cy="26.0" rx="2.59" ry="1.39" fill="#3cff5a" filter="url(#b1)"/><ellipse cx="14.4" cy="25.0" rx="1.4" ry="1.6" fill="#00d2ff" filter="url(#b1)" opacity="1.00"/><ellipse cx="21.6" cy="24.6" rx="1.4" ry="1.8" fill="#00d2ff" filter="url(#b1)" opacity="1.00"/><ellipse cx="45.4" cy="25.4" rx="4.80" ry="3.00" fill="#2d32ff" filter="url(#b1)"/><ellipse cx="45.4" cy="25.4" rx="2.93" ry="1.83" fill="#00d2ff" filter="url(#b1)"/><ellipse cx="43.6" cy="25.4" rx="1.7" ry="1.9" fill="#3cff5a" filter="url(#b1)" opacity="1.00"/><ellipse cx="48.4" cy="24.0" rx="1.3" ry="1.8" fill="#9af5ff" filter="url(#b1)" opacity="1.00"/><ellipse cx="25.8" cy="7.8" rx="1.3" ry="1.5" fill="#e0d8f4" filter="url(#b1)" opacity="1.00"/><ellipse cx="35.6" cy="8.0" rx="1.3" ry="1.5" fill="#e0d8f4" filter="url(#b1)" opacity="1.00"/><ellipse cx="6.8" cy="7.2" rx="1.1" ry="1.2" fill="#d0c4f6" filter="url(#b1)" opacity="1.00"/><ellipse cx="16.2" cy="6.8" rx="1.1" ry="1.2" fill="#d0c4f6" filter="url(#b1)" opacity="1.00"/><ellipse cx="44.6" cy="7.4" rx="1.0" ry="1.2" fill="#b8a8f0" filter="url(#b1)" opacity="1.00"/></g></g><g transform="translate(73.4 179.0)" clip-path="url(#pc)"><g filter="url(#soft)"><rect x="-3" y="-3" width="58" height="58" fill="#2b2b2b"/><rect x="0.7" y="0.7" width="50.2" height="3.5" fill="#5a5a5a"/><rect x="0.7" y="4.2" width="50.2" height="25.3" fill="#3c3c3c"/><rect x="0.7" y="29.2" width="50.2" height="21.6" fill="url(#fl)"/><rect x="0.7" y="28.9" width="50.2" height="1.4" fill="#5e5e5e"/><rect x="11.6" y="44.8" width="4" height="1.6" fill="#1e1e1e"/><rect x="38.2" y="44.8" width="4" height="1.6" fill="#1e1e1e"/><use href="#t" x="6.9" stroke="#b4b4b4" stroke-width="0.9"/><use href="#t" x="16.6" stroke="#b4b4b4" stroke-width="0.9"/><use href="#t" x="25.8" stroke="#b4b4b4" stroke-width="0.9"/><use href="#t" x="35.5" stroke="#b4b4b4" stroke-width="0.9"/><use href="#t" x="44.9" stroke="#b4b4b4" stroke-width="0.9"/><path d="M3.7 27.6l-1.6 2.6M10.1 27.6l1.6 2.6M4.7 10.4l-1.7 -2.6M9.1 10.4l1.7 -2.6" stroke="#8a8a8a" stroke-width="0.8" fill="none"/><use href="#m" x="6.9" fill="#a9a9a9"/><use href="#m" transform="translate(6.9 0.3) scale(0.76 0.985)" fill="url(#mg)"/><path d="M5.7 10.2h2.4M4.7 13.6l1.2 1.6M9.1 13.6l-1.2 1.6" stroke="#8e8e8e" stroke-width="0.7" fill="none" opacity="0.75"/><path d="M13.4 27.6l-1.6 2.6M19.8 27.6l1.6 2.6M14.4 10.4l-1.7 -2.6M18.8 10.4l1.7 -2.6" stroke="#8a8a8a" stroke-width="0.8" fill="none"/><use href="#m" x="16.6" fill="#a9a9a9"/><use href="#m" transform="translate(16.6 0.3) scale(0.76 0.985)" fill="url(#mg)"/><path d="M15.4 10.2h2.4M14.4 13.6l1.2 1.6M18.8 13.6l-1.2 1.6" stroke="#8e8e8e" stroke-width="0.7" fill="none" opacity="0.75"/><path d="M22.6 27.6l-1.6 2.6M29.0 27.6l1.6 2.6M23.6 10.4l-1.7 -2.6M28.0 10.4l1.7 -2.6" stroke="#8a8a8a" stroke-width="0.8" fill="none"/><use href="#m" x="25.8" fill="#a9a9a9"/><use href="#m" transform="translate(25.8 0.3) scale(0.76 0.985)" fill="url(#mg)"/><path d="M24.6 10.2h2.4M23.6 13.6l1.2 1.6M28.0 13.6l-1.2 1.6" stroke="#8e8e8e" stroke-width="0.7" fill="none" opacity="0.75"/><path d="M32.3 27.6l-1.6 2.6M38.7 27.6l1.6 2.6M33.3 10.4l-1.7 -2.6M37.7 10.4l1.7 -2.6" stroke="#8a8a8a" stroke-width="0.8" fill="none"/><use href="#m" x="35.5" fill="#a9a9a9"/><use href="#m" transform="translate(35.5 0.3) scale(0.76 0.985)" fill="url(#mg)"/><path d="M34.3 10.2h2.4M33.3 13.6l1.2 1.6M37.7 13.6l-1.2 1.6" stroke="#8e8e8e" stroke-width="0.7" fill="none" opacity="0.75"/><path d="M41.7 27.6l-1.6 2.6M48.1 27.6l1.6 2.6M42.7 10.4l-1.7 -2.6M47.1 10.4l1.7 -2.6" stroke="#8a8a8a" stroke-width="0.8" fill="none"/><use href="#m" x="44.9" fill="#a9a9a9"/><use href="#m" transform="translate(44.9 0.3) scale(0.76 0.985)" fill="url(#mg)"/><path d="M43.7 10.2h2.4M42.7 13.6l1.2 1.6M47.1 13.6l-1.2 1.6" stroke="#8e8e8e" stroke-width="0.7" fill="none" opacity="0.75"/><ellipse cx="4.6" cy="25.2" rx="1.8" ry="1.8" fill="#5f10f8" filter="url(#b1)" opacity="0.70"/><ellipse cx="13.0" cy="24.8" rx="2.8" ry="2.6" fill="#5f10f8" filter="url(#b1)" opacity="1.00"/><ellipse cx="21.8" cy="24.8" rx="2.8" ry="2.6" fill="#5f10f8" filter="url(#b1)" opacity="1.00"/><ellipse cx="24.5" cy="25.4" rx="2.0" ry="2.0" fill="#5f10f8" filter="url(#b1)" opacity="1.00"/><ellipse cx="31.8" cy="24.8" rx="3.0" ry="2.6" fill="#5f10f8" filter="url(#b1)" opacity="1.00"/><ellipse cx="34.5" cy="25.4" rx="2.0" ry="2.0" fill="#5f10f8" filter="url(#b1)" opacity="1.00"/><ellipse cx="41.4" cy="24.9" rx="2.9" ry="2.6" fill="#5f10f8" filter="url(#b1)" opacity="1.00"/><ellipse cx="44.5" cy="25.4" rx="2.0" ry="2.0" fill="#5f10f8" filter="url(#b1)" opacity="1.00"/><ellipse cx="50.2" cy="24.8" rx="1.8" ry="2.4" fill="#5f10f8" filter="url(#b1)" opacity="1.00"/><ellipse cx="17.6" cy="13.8" rx="1.8" ry="0.8" fill="#5f10f8" filter="url(#b1)" opacity="0.80"/><ellipse cx="27.0" cy="14.2" rx="2.0" ry="0.9" fill="#5f10f8" filter="url(#b1)" opacity="0.80"/><ellipse cx="36.5" cy="13.6" rx="1.8" ry="0.8" fill="#5f10f8" filter="url(#b1)" opacity="0.80"/></g></g><g transform="translate(128.9 179.0)" clip-path="url(#pc)"><g filter="url(#soft)"><rect x="-3" y="-3" width="58" height="58" fill="#2b2b2b"/><rect x="0.7" y="0.7" width="50.2" height="3.5" fill="#5a5a5a"/><rect x="0.7" y="4.2" width="50.2" height="25.3" fill="#3c3c3c"/><rect x="0.7" y="29.2" width="50.2" height="21.6" fill="url(#fl)"/><rect x="0.7" y="28.9" width="50.2" height="1.4" fill="#5e5e5e"/><rect x="11.6" y="44.8" width="4" height="1.6" fill="#1e1e1e"/><rect x="38.2" y="44.8" width="4" height="1.6" fill="#1e1e1e"/><use href="#t" x="6.3" stroke="#8f86b4" stroke-width="0.9"/><use href="#t" x="16.0" stroke="#8f86b4" stroke-width="0.9"/><use href="#t" x="25.2" stroke="#8f86b4" stroke-width="0.9"/><use href="#t" x="34.9" stroke="#8f86b4" stroke-width="0.9"/><use href="#t" x="44.3" stroke="#8f86b4" stroke-width="0.9"/><path d="M3.1 27.6l-1.6 2.6M9.5 27.6l1.6 2.6M4.1 10.4l-1.7 -2.6M8.5 10.4l1.7 -2.6" stroke="#8a8a8a" stroke-width="0.8" fill="none"/><use href="#m" x="6.3" fill="#cfc3f2"/><path d="M12.8 27.6l-1.6 2.6M19.2 27.6l1.6 2.6M13.8 10.4l-1.7 -2.6M18.2 10.4l1.7 -2.6" stroke="#8a8a8a" stroke-width="0.8" fill="none"/><use href="#m" x="16.0" fill="#cfc3f2"/><path d="M22.0 27.6l-1.6 2.6M28.4 27.6l1.6 2.6M23.0 10.4l-1.7 -2.6M27.4 10.4l1.7 -2.6" stroke="#8a8a8a" stroke-width="0.8" fill="none"/><use href="#m" x="25.2" fill="#cfc3f2"/><path d="M31.7 27.6l-1.6 2.6M38.1 27.6l1.6 2.6M32.7 10.4l-1.7 -2.6M37.1 10.4l1.7 -2.6" stroke="#8a8a8a" stroke-width="0.8" fill="none"/><use href="#m" x="34.9" fill="#cfc3f2"/><path d="M41.1 27.6l-1.6 2.6M47.5 27.6l1.6 2.6M42.1 10.4l-1.7 -2.6M46.5 10.4l1.7 -2.6" stroke="#8a8a8a" stroke-width="0.8" fill="none"/><use href="#m" x="44.3" fill="#cfc3f2"/><rect x="-3" y="-3" width="58" height="58" fill="#2a2438" opacity="0.38"/><ellipse cx="26.0" cy="17.5" rx="23.5" ry="11.5" fill="#6a18ff" filter="url(#b2)" opacity="0.75"/><use href="#m" x="6.3" fill="#6a18ff" opacity="0.95"/><use href="#m" x="16.0" fill="#6a18ff" opacity="0.95"/><use href="#m" x="25.2" fill="#6a18ff" opacity="0.95"/><use href="#m" x="34.9" fill="#6a18ff" opacity="0.95"/><use href="#m" x="44.3" fill="#6a18ff" opacity="0.95"/><ellipse cx="26.0" cy="23.5" rx="23.5" ry="4.6" fill="#5a1cff" filter="url(#b1)" opacity="1.00"/><ellipse cx="6.3" cy="30.0" rx="1.1" ry="3.5" fill="#6a18ff" filter="url(#b1)" opacity="0.70"/><ellipse cx="16.0" cy="30.0" rx="1.1" ry="3.5" fill="#6a18ff" filter="url(#b1)" opacity="0.70"/><ellipse cx="25.2" cy="30.0" rx="1.1" ry="3.5" fill="#6a18ff" filter="url(#b1)" opacity="0.70"/><ellipse cx="34.9" cy="30.0" rx="1.1" ry="3.5" fill="#6a18ff" filter="url(#b1)" opacity="0.70"/><ellipse cx="44.3" cy="30.0" rx="1.1" ry="3.5" fill="#6a18ff" filter="url(#b1)" opacity="0.70"/><ellipse cx="4.3" cy="23.5" rx="2.6" ry="1.9" fill="#3030ff" filter="url(#b1)" opacity="1.00"/><ellipse cx="14.6" cy="23.5" rx="2.6" ry="1.9" fill="#3030ff" filter="url(#b1)" opacity="1.00"/><ellipse cx="23.2" cy="23.5" rx="2.6" ry="1.9" fill="#3030ff" filter="url(#b1)" opacity="1.00"/><ellipse cx="33.7" cy="23.5" rx="2.6" ry="1.9" fill="#3030ff" filter="url(#b1)" opacity="1.00"/><ellipse cx="42.7" cy="23.5" rx="2.6" ry="1.9" fill="#3030ff" filter="url(#b1)" opacity="1.00"/><ellipse cx="4.1" cy="23.6" rx="1.2" ry="1.0" fill="#5ac8ff" filter="url(#b1)" opacity="1.00"/><ellipse cx="14.2" cy="23.6" rx="1.2" ry="1.0" fill="#5ac8ff" filter="url(#b1)" opacity="1.00"/><ellipse cx="22.8" cy="23.6" rx="1.2" ry="1.0" fill="#5ac8ff" filter="url(#b1)" opacity="1.00"/><ellipse cx="33.3" cy="23.6" rx="1.2" ry="1.0" fill="#5ac8ff" filter="url(#b1)" opacity="1.00"/><ellipse cx="42.3" cy="23.6" rx="1.2" ry="1.0" fill="#5ac8ff" filter="url(#b1)" opacity="1.00"/><ellipse cx="9.1" cy="24.2" rx="1.2" ry="1.0" fill="#2d32ff" filter="url(#b1)" opacity="1.00"/><ellipse cx="18.8" cy="24.2" rx="1.2" ry="1.0" fill="#2d32ff" filter="url(#b1)" opacity="1.00"/><ellipse cx="28.0" cy="24.2" rx="1.2" ry="1.0" fill="#2d32ff" filter="url(#b1)" opacity="1.00"/><ellipse cx="37.7" cy="24.2" rx="1.2" ry="1.0" fill="#2d32ff" filter="url(#b1)" opacity="1.00"/><ellipse cx="47.1" cy="24.2" rx="1.2" ry="1.0" fill="#2d32ff" filter="url(#b1)" opacity="1.00"/><ellipse cx="5.0" cy="7.4" rx="1.0" ry="1.2" fill="#e8a0c0" filter="url(#b1)" opacity="0.80"/><ellipse cx="36.0" cy="7.2" rx="1.0" ry="1.2" fill="#e0c0e0" filter="url(#b1)" opacity="0.70"/></g></g><g transform="translate(185.2 179.0)" clip-path="url(#pc)"><g filter="url(#soft)"><rect x="-3" y="-3" width="58" height="58" fill="#2b2b2b"/><rect x="0.7" y="0.7" width="50.2" height="3.5" fill="#5a5a5a"/><rect x="0.7" y="4.2" width="50.2" height="25.3" fill="#3c3c3c"/><rect x="0.7" y="29.2" width="50.2" height="21.6" fill="url(#fl)"/><rect x="0.7" y="28.9" width="50.2" height="1.4" fill="#5e5e5e"/><rect x="11.6" y="44.8" width="4" height="1.6" fill="#1e1e1e"/><rect x="38.2" y="44.8" width="4" height="1.6" fill="#1e1e1e"/><use href="#t" x="4.9" stroke="#7a5ad8" stroke-width="0.9"/><use href="#t" x="14.6" stroke="#7a5ad8" stroke-width="0.9"/><use href="#t" x="23.8" stroke="#7a5ad8" stroke-width="0.9"/><use href="#t" x="33.5" stroke="#7a5ad8" stroke-width="0.9"/><use href="#t" x="42.9" stroke="#7a5ad8" stroke-width="0.9"/><rect x="-3" y="-3" width="58" height="58" fill="#6c26ee" opacity="0.84"/><ellipse cx="25.5" cy="17.0" rx="24.5" ry="10.5" fill="#4226ff" filter="url(#b2)" opacity="1.00"/><ellipse cx="5.5" cy="15.8" rx="4.8" ry="10.0" fill="#3028ff" filter="url(#b1)" opacity="0.97"/><ellipse cx="15.2" cy="15.8" rx="4.8" ry="10.0" fill="#3028ff" filter="url(#b1)" opacity="0.97"/><ellipse cx="24.4" cy="15.8" rx="4.8" ry="10.0" fill="#3028ff" filter="url(#b1)" opacity="0.97"/><ellipse cx="34.1" cy="15.8" rx="4.8" ry="10.0" fill="#3028ff" filter="url(#b1)" opacity="0.97"/><ellipse cx="43.5" cy="15.8" rx="4.8" ry="10.0" fill="#3028ff" filter="url(#b1)" opacity="0.97"/><ellipse cx="5.5" cy="13.5" rx="1.7" ry="2.8" fill="#1e78ff" filter="url(#b1)" opacity="1.00"/><ellipse cx="15.2" cy="13.5" rx="1.7" ry="2.8" fill="#1e78ff" filter="url(#b1)" opacity="1.00"/><ellipse cx="24.4" cy="13.5" rx="1.7" ry="2.8" fill="#1e78ff" filter="url(#b1)" opacity="1.00"/><ellipse cx="34.1" cy="13.5" rx="1.7" ry="2.8" fill="#1e78ff" filter="url(#b1)" opacity="1.00"/><ellipse cx="43.5" cy="13.5" rx="1.7" ry="2.8" fill="#1e78ff" filter="url(#b1)" opacity="1.00"/><ellipse cx="6.0" cy="12.0" rx="1.2" ry="1.5" fill="#00d2ff" filter="url(#b1)" opacity="1.00"/><ellipse cx="14.6" cy="10.6" rx="1.0" ry="1.3" fill="#00d2ff" filter="url(#b1)" opacity="1.00"/><ellipse cx="35.0" cy="12.6" rx="1.5" ry="1.9" fill="#00d2ff" filter="url(#b1)" opacity="1.00"/><ellipse cx="33.4" cy="16.0" rx="1.0" ry="1.2" fill="#00d2ff" filter="url(#b1)" opacity="1.00"/><ellipse cx="44.0" cy="12.0" rx="1.4" ry="1.8" fill="#00d2ff" filter="url(#b1)" opacity="1.00"/><ellipse cx="45.4" cy="16.4" rx="1.0" ry="1.2" fill="#00d2ff" filter="url(#b1)" opacity="1.00"/><ellipse cx="25.0" cy="11.4" rx="0.9" ry="1.1" fill="#3cb4ff" filter="url(#b1)" opacity="1.00"/><ellipse cx="4.0" cy="22.4" rx="3.60" ry="2.40" fill="#2d32ff" filter="url(#b1)"/><ellipse cx="4.0" cy="22.4" rx="2.90" ry="1.93" fill="#00d2ff" filter="url(#b1)"/><ellipse cx="4.0" cy="22.4" rx="2.20" ry="1.46" fill="#3cff5a" filter="url(#b1)"/><ellipse cx="4.0" cy="22.4" rx="1.49" ry="1.00" fill="#fff000" filter="url(#b1)"/><ellipse cx="9.2" cy="22.0" rx="2.0" ry="1.3" fill="#00d2ff" filter="url(#b1)" opacity="1.00"/><ellipse cx="6.8" cy="24.6" rx="1.3" ry="0.9" fill="#3cff5a" filter="url(#b1)" opacity="1.00"/><ellipse cx="15.6" cy="22.4" rx="4.20" ry="2.50" fill="#2d32ff" filter="url(#b1)"/><ellipse cx="15.6" cy="22.4" rx="3.38" ry="2.01" fill="#00d2ff" filter="url(#b1)"/><ellipse cx="15.6" cy="22.4" rx="2.56" ry="1.52" fill="#3cff5a" filter="url(#b1)"/><ellipse cx="15.6" cy="22.4" rx="1.74" ry="1.04" fill="#fff000" filter="url(#b1)"/><ellipse cx="19.8" cy="22.2" rx="1.6" ry="1.1" fill="#00d2ff" filter="url(#b1)" opacity="1.00"/><ellipse cx="18.0" cy="24.4" rx="1.3" ry="0.9" fill="#3cff5a" filter="url(#b1)" opacity="1.00"/><ellipse cx="23.4" cy="22.6" rx="1.4" ry="1.1" fill="#2a6cff" filter="url(#b1)" opacity="1.00"/><ellipse cx="28.4" cy="21.4" rx="1.0" ry="0.9" fill="#c8faff" filter="url(#b1)" opacity="1.00"/><ellipse cx="32.0" cy="23.0" rx="4.60" ry="2.30" fill="#2d32ff" filter="url(#b1)"/><ellipse cx="32.0" cy="23.0" rx="2.81" ry="1.40" fill="#00d2ff" filter="url(#b1)"/><ellipse cx="35.2" cy="23.8" rx="2.80" ry="1.60" fill="#00d2ff" filter="url(#b1)"/><ellipse cx="35.2" cy="23.8" rx="1.71" ry="0.98" fill="#3cff5a" filter="url(#b1)"/><ellipse cx="30.2" cy="22.2" rx="1.3" ry="1.0" fill="#00d2ff" filter="url(#b1)" opacity="1.00"/><ellipse cx="44.8" cy="22.0" rx="4.20" ry="2.40" fill="#2d32ff" filter="url(#b1)"/><ellipse cx="44.8" cy="22.0" rx="2.56" ry="1.46" fill="#00d2ff" filter="url(#b1)"/><ellipse cx="43.6" cy="22.6" rx="2.0" ry="1.3" fill="#3cff5a" filter="url(#b1)" opacity="1.00"/><ellipse cx="47.4" cy="21.4" rx="1.4" ry="1.1" fill="#9af5ff" filter="url(#b1)" opacity="1.00"/><ellipse cx="44.6" cy="24.4" rx="1.2" ry="0.8" fill="#3cff5a" filter="url(#b1)" opacity="1.00"/></g></g><g transform="translate(73.4 233.9)" clip-path="url(#pc)"><g filter="url(#soft)"><rect x="-3" y="-3" width="58" height="58" fill="#2b2b2b"/><rect x="0.7" y="0.7" width="50.2" height="3.5" fill="#5a5a5a"/><rect x="0.7" y="4.2" width="50.2" height="25.3" fill="#3c3c3c"/><rect x="0.7" y="29.2" width="50.2" height="21.6" fill="url(#fl)"/><rect x="0.7" y="28.9" width="50.2" height="1.4" fill="#5e5e5e"/><rect x="11.6" y="44.8" width="4" height="1.6" fill="#1e1e1e"/><rect x="38.2" y="44.8" width="4" height="1.6" fill="#1e1e1e"/><use href="#t" x="6.9" stroke="#b4b4b4" stroke-width="0.9"/><use href="#t" x="16.6" stroke="#b4b4b4" stroke-width="0.9"/><use href="#t" x="25.8" stroke="#b4b4b4" stroke-width="0.9"/><use href="#t" x="35.5" stroke="#b4b4b4" stroke-width="0.9"/><use href="#t" x="44.9" stroke="#b4b4b4" stroke-width="0.9"/><path d="M3.7 27.6l-1.6 2.6M10.1 27.6l1.6 2.6M4.7 10.4l-1.7 -2.6M9.1 10.4l1.7 -2.6" stroke="#8a8a8a" stroke-width="0.8" fill="none"/><use href="#m" x="6.9" fill="#a9a9a9"/><use href="#m" transform="translate(6.9 0.3) scale(0.76 0.985)" fill="url(#mg)"/><path d="M5.7 10.2h2.4M4.7 13.6l1.2 1.6M9.1 13.6l-1.2 1.6" stroke="#8e8e8e" stroke-width="0.7" fill="none" opacity="0.75"/><path d="M13.4 27.6l-1.6 2.6M19.8 27.6l1.6 2.6M14.4 10.4l-1.7 -2.6M18.8 10.4l1.7 -2.6" stroke="#8a8a8a" stroke-width="0.8" fill="none"/><use href="#m" x="16.6" fill="#a9a9a9"/><use href="#m" transform="translate(16.6 0.3) scale(0.76 0.985)" fill="url(#mg)"/><path d="M15.4 10.2h2.4M14.4 13.6l1.2 1.6M18.8 13.6l-1.2 1.6" stroke="#8e8e8e" stroke-width="0.7" fill="none" opacity="0.75"/><path d="M22.6 27.6l-1.6 2.6M29.0 27.6l1.6 2.6M23.6 10.4l-1.7 -2.6M28.0 10.4l1.7 -2.6" stroke="#8a8a8a" stroke-width="0.8" fill="none"/><use href="#m" x="25.8" fill="#a9a9a9"/><use href="#m" transform="translate(25.8 0.3) scale(0.76 0.985)" fill="url(#mg)"/><path d="M24.6 10.2h2.4M23.6 13.6l1.2 1.6M28.0 13.6l-1.2 1.6" stroke="#8e8e8e" stroke-width="0.7" fill="none" opacity="0.75"/><path d="M32.3 27.6l-1.6 2.6M38.7 27.6l1.6 2.6M33.3 10.4l-1.7 -2.6M37.7 10.4l1.7 -2.6" stroke="#8a8a8a" stroke-width="0.8" fill="none"/><use href="#m" x="35.5" fill="#a9a9a9"/><use href="#m" transform="translate(35.5 0.3) scale(0.76 0.985)" fill="url(#mg)"/><path d="M34.3 10.2h2.4M33.3 13.6l1.2 1.6M37.7 13.6l-1.2 1.6" stroke="#8e8e8e" stroke-width="0.7" fill="none" opacity="0.75"/><path d="M41.7 27.6l-1.6 2.6M48.1 27.6l1.6 2.6M42.7 10.4l-1.7 -2.6M47.1 10.4l1.7 -2.6" stroke="#8a8a8a" stroke-width="0.8" fill="none"/><use href="#m" x="44.9" fill="#a9a9a9"/><use href="#m" transform="translate(44.9 0.3) scale(0.76 0.985)" fill="url(#mg)"/><path d="M43.7 10.2h2.4M42.7 13.6l1.2 1.6M47.1 13.6l-1.2 1.6" stroke="#8e8e8e" stroke-width="0.7" fill="none" opacity="0.75"/><ellipse cx="26.0" cy="25.8" rx="25.0" ry="3.0" fill="#5f10f8" filter="url(#b1)" opacity="1.00"/><ellipse cx="6.9" cy="25.4" rx="4.6" ry="3.4" fill="#5f10f8" filter="url(#b1)" opacity="1.00"/><ellipse cx="16.6" cy="25.4" rx="4.6" ry="3.4" fill="#5f10f8" filter="url(#b1)" opacity="1.00"/><ellipse cx="25.8" cy="25.4" rx="4.6" ry="3.4" fill="#5f10f8" filter="url(#b1)" opacity="1.00"/><ellipse cx="35.5" cy="25.4" rx="4.6" ry="3.4" fill="#5f10f8" filter="url(#b1)" opacity="1.00"/><ellipse cx="44.9" cy="25.4" rx="4.6" ry="3.4" fill="#5f10f8" filter="url(#b1)" opacity="1.00"/><ellipse cx="6.9" cy="13.4" rx="3.5" ry="2.5" fill="#5f10f8" filter="url(#b1)" opacity="1.00"/><ellipse cx="16.6" cy="13.4" rx="3.5" ry="2.5" fill="#5f10f8" filter="url(#b1)" opacity="1.00"/><ellipse cx="25.8" cy="13.4" rx="3.5" ry="2.5" fill="#5f10f8" filter="url(#b1)" opacity="1.00"/><ellipse cx="35.5" cy="13.4" rx="3.5" ry="2.5" fill="#5f10f8" filter="url(#b1)" opacity="1.00"/><ellipse cx="44.9" cy="13.4" rx="3.5" ry="2.5" fill="#5f10f8" filter="url(#b1)" opacity="1.00"/><ellipse cx="26.6" cy="17.2" rx="1.3" ry="1.3" fill="#5f10f8" filter="url(#b1)" opacity="1.00"/><ellipse cx="17.4" cy="10.5" rx="1.8" ry="1.4" fill="#5f10f8" filter="url(#b1)" opacity="1.00"/><ellipse cx="36.4" cy="10.5" rx="1.8" ry="1.4" fill="#5f10f8" filter="url(#b1)" opacity="1.00"/><ellipse cx="31.0" cy="13.6" rx="2.2" ry="1.4" fill="#5f10f8" filter="url(#b1)" opacity="1.00"/><ellipse cx="12.4" cy="14.0" rx="1.6" ry="1.2" fill="#5f10f8" filter="url(#b1)" opacity="1.00"/><ellipse cx="21.6" cy="13.0" rx="1.6" ry="1.2" fill="#5f10f8" filter="url(#b1)" opacity="1.00"/></g></g><g transform="translate(128.9 233.9)" clip-path="url(#pc)"><g filter="url(#soft)"><rect x="-3" y="-3" width="58" height="58" fill="#2b2b2b"/><rect x="0.7" y="0.7" width="50.2" height="3.5" fill="#5a5a5a"/><rect x="0.7" y="4.2" width="50.2" height="25.3" fill="#3c3c3c"/><rect x="0.7" y="29.2" width="50.2" height="21.6" fill="url(#fl)"/><rect x="0.7" y="28.9" width="50.2" height="1.4" fill="#5e5e5e"/><rect x="11.6" y="44.8" width="4" height="1.6" fill="#1e1e1e"/><rect x="38.2" y="44.8" width="4" height="1.6" fill="#1e1e1e"/><use href="#t" x="6.1" stroke="#8f86b4" stroke-width="0.9"/><use href="#t" x="15.8" stroke="#8f86b4" stroke-width="0.9"/><use href="#t" x="25.0" stroke="#8f86b4" stroke-width="0.9"/><use href="#t" x="34.7" stroke="#8f86b4" stroke-width="0.9"/><use href="#t" x="44.1" stroke="#8f86b4" stroke-width="0.9"/><path d="M2.9 27.6l-1.6 2.6M9.3 27.6l1.6 2.6M3.9 10.4l-1.7 -2.6M8.3 10.4l1.7 -2.6" stroke="#8a8a8a" stroke-width="0.8" fill="none"/><use href="#m" x="6.1" fill="#cfc3f2"/><path d="M12.6 27.6l-1.6 2.6M19.0 27.6l1.6 2.6M13.6 10.4l-1.7 -2.6M18.0 10.4l1.7 -2.6" stroke="#8a8a8a" stroke-width="0.8" fill="none"/><use href="#m" x="15.8" fill="#cfc3f2"/><path d="M21.8 27.6l-1.6 2.6M28.2 27.6l1.6 2.6M22.8 10.4l-1.7 -2.6M27.2 10.4l1.7 -2.6" stroke="#8a8a8a" stroke-width="0.8" fill="none"/><use href="#m" x="25.0" fill="#cfc3f2"/><path d="M31.5 27.6l-1.6 2.6M37.9 27.6l1.6 2.6M32.5 10.4l-1.7 -2.6M36.9 10.4l1.7 -2.6" stroke="#8a8a8a" stroke-width="0.8" fill="none"/><use href="#m" x="34.7" fill="#cfc3f2"/><path d="M40.9 27.6l-1.6 2.6M47.3 27.6l1.6 2.6M41.9 10.4l-1.7 -2.6M46.3 10.4l1.7 -2.6" stroke="#8a8a8a" stroke-width="0.8" fill="none"/><use href="#m" x="44.1" fill="#cfc3f2"/><rect x="-3" y="-3" width="58" height="58" fill="#2a2438" opacity="0.38"/><ellipse cx="26.0" cy="16.5" rx="23.5" ry="11.5" fill="#6a18ff" filter="url(#b2)" opacity="0.75"/><use href="#m" x="6.1" fill="#6a18ff" opacity="0.95"/><use href="#m" x="15.8" fill="#6a18ff" opacity="0.95"/><use href="#m" x="25.0" fill="#6a18ff" opacity="0.95"/><use href="#m" x="34.7" fill="#6a18ff" opacity="0.95"/><use href="#m" x="44.1" fill="#6a18ff" opacity="0.95"/><ellipse cx="26.0" cy="23.2" rx="23.5" ry="4.8" fill="#5a1cff" filter="url(#b1)" opacity="1.00"/><ellipse cx="6.1" cy="30.0" rx="1.1" ry="3.5" fill="#6a18ff" filter="url(#b1)" opacity="0.70"/><ellipse cx="15.8" cy="30.0" rx="1.1" ry="3.5" fill="#6a18ff" filter="url(#b1)" opacity="0.70"/><ellipse cx="25.0" cy="30.0" rx="1.1" ry="3.5" fill="#6a18ff" filter="url(#b1)" opacity="0.70"/><ellipse cx="34.7" cy="30.0" rx="1.1" ry="3.5" fill="#6a18ff" filter="url(#b1)" opacity="0.70"/><ellipse cx="44.1" cy="30.0" rx="1.1" ry="3.5" fill="#6a18ff" filter="url(#b1)" opacity="0.70"/><ellipse cx="4.5" cy="22.6" rx="2.8" ry="2.0" fill="#2e34ff" filter="url(#b1)" opacity="1.00"/><ellipse cx="14.8" cy="22.6" rx="2.8" ry="2.0" fill="#2e34ff" filter="url(#b1)" opacity="1.00"/><ellipse cx="22.8" cy="22.6" rx="2.8" ry="2.0" fill="#2e34ff" filter="url(#b1)" opacity="1.00"/><ellipse cx="33.9" cy="22.6" rx="2.8" ry="2.0" fill="#2e34ff" filter="url(#b1)" opacity="1.00"/><ellipse cx="43.7" cy="22.6" rx="2.8" ry="2.0" fill="#2e34ff" filter="url(#b1)" opacity="1.00"/><ellipse cx="4.5" cy="22.6" rx="1.3" ry="1.1" fill="#6ad0ff" filter="url(#b1)" opacity="1.00"/><ellipse cx="14.8" cy="22.6" rx="1.3" ry="1.1" fill="#6ad0ff" filter="url(#b1)" opacity="1.00"/><ellipse cx="22.8" cy="22.6" rx="1.3" ry="1.1" fill="#6ad0ff" filter="url(#b1)" opacity="1.00"/><ellipse cx="33.9" cy="22.6" rx="1.3" ry="1.1" fill="#6ad0ff" filter="url(#b1)" opacity="1.00"/><ellipse cx="43.7" cy="22.6" rx="1.3" ry="1.1" fill="#6ad0ff" filter="url(#b1)" opacity="1.00"/><ellipse cx="5.2" cy="6.2" rx="1.0" ry="1.0" fill="#e8a0b0" filter="url(#b1)" opacity="0.80"/><ellipse cx="25.4" cy="6.4" rx="1.0" ry="1.0" fill="#e0c0e0" filter="url(#b1)" opacity="0.70"/><ellipse cx="35.4" cy="6.4" rx="1.0" ry="1.0" fill="#e0c0e0" filter="url(#b1)" opacity="0.70"/></g></g><g transform="translate(184.3 233.9)" clip-path="url(#pc)"><g filter="url(#soft)"><rect x="-3" y="-3" width="58" height="58" fill="#2b2b2b"/><rect x="0.7" y="0.7" width="50.2" height="3.5" fill="#5a5a5a"/><rect x="0.7" y="4.2" width="50.2" height="25.3" fill="#3c3c3c"/><rect x="0.7" y="29.2" width="50.2" height="21.6" fill="url(#fl)"/><rect x="0.7" y="28.9" width="50.2" height="1.4" fill="#5e5e5e"/><rect x="11.6" y="44.8" width="4" height="1.6" fill="#1e1e1e"/><rect x="38.2" y="44.8" width="4" height="1.6" fill="#1e1e1e"/><use href="#t" x="5.9" stroke="#7448e0" stroke-width="0.9"/><use href="#t" x="15.6" stroke="#7448e0" stroke-width="0.9"/><use href="#t" x="24.8" stroke="#7448e0" stroke-width="0.9"/><use href="#t" x="34.5" stroke="#7448e0" stroke-width="0.9"/><use href="#t" x="43.9" stroke="#7448e0" stroke-width="0.9"/><rect x="-3" y="-3" width="58" height="58" fill="#6c24f0" opacity="0.92"/><rect x="-3" y="-3" width="58" height="3.6" fill="#5b2bb8" opacity="0.7"/><rect x="-3" y="38" width="58" height="16" fill="#4a22a8" opacity="0.22"/><ellipse cx="26.0" cy="17.0" rx="25.0" ry="10.5" fill="#4226ff" filter="url(#b2)" opacity="1.00"/><ellipse cx="26.0" cy="18.0" rx="23.0" ry="8.5" fill="#3828ff" filter="url(#b1)" opacity="0.90"/><ellipse cx="6.3" cy="15.4" rx="4.8" ry="9.6" fill="#2c2aff" filter="url(#b1)" opacity="0.97"/><ellipse cx="16.0" cy="15.4" rx="4.8" ry="9.6" fill="#2c2aff" filter="url(#b1)" opacity="0.97"/><ellipse cx="25.2" cy="15.4" rx="4.8" ry="9.6" fill="#2c2aff" filter="url(#b1)" opacity="0.97"/><ellipse cx="34.9" cy="15.4" rx="4.8" ry="9.6" fill="#2c2aff" filter="url(#b1)" opacity="0.97"/><ellipse cx="44.3" cy="15.4" rx="4.8" ry="9.6" fill="#2c2aff" filter="url(#b1)" opacity="0.97"/><ellipse cx="6.3" cy="13.6" rx="3.00" ry="5.00" fill="#2d32ff" filter="url(#b1)"/><ellipse cx="6.3" cy="13.6" rx="1.83" ry="3.05" fill="#00d2ff" filter="url(#b1)"/><ellipse cx="16.0" cy="13.6" rx="3.00" ry="5.00" fill="#2d32ff" filter="url(#b1)"/><ellipse cx="16.0" cy="13.6" rx="1.83" ry="3.05" fill="#00d2ff" filter="url(#b1)"/><ellipse cx="25.2" cy="13.6" rx="3.00" ry="5.00" fill="#2d32ff" filter="url(#b1)"/><ellipse cx="25.2" cy="13.6" rx="1.83" ry="3.05" fill="#00d2ff" filter="url(#b1)"/><ellipse cx="34.9" cy="13.6" rx="3.00" ry="5.00" fill="#2d32ff" filter="url(#b1)"/><ellipse cx="34.9" cy="13.6" rx="1.83" ry="3.05" fill="#00d2ff" filter="url(#b1)"/><ellipse cx="44.3" cy="13.6" rx="3.00" ry="5.00" fill="#2d32ff" filter="url(#b1)"/><ellipse cx="44.3" cy="13.6" rx="1.83" ry="3.05" fill="#00d2ff" filter="url(#b1)"/><ellipse cx="15.9" cy="12.0" rx="2.0" ry="2.6" fill="#7af0ff" filter="url(#b1)" opacity="1.00"/><ellipse cx="34.8" cy="14.4" rx="1.9" ry="2.3" fill="#7af0ff" filter="url(#b1)" opacity="1.00"/><ellipse cx="44.2" cy="13.4" rx="1.8" ry="2.6" fill="#7af0ff" filter="url(#b1)" opacity="1.00"/><ellipse cx="26.0" cy="10.6" rx="1.4" ry="1.6" fill="#5ad8ff" filter="url(#b1)" opacity="1.00"/><ellipse cx="5.6" cy="10.4" rx="1.2" ry="1.5" fill="#5ad8ff" filter="url(#b1)" opacity="1.00"/><ellipse cx="17.4" cy="16.4" rx="1.2" ry="1.4" fill="#7af0ff" filter="url(#b1)" opacity="1.00"/><ellipse cx="36.4" cy="11.0" rx="1.0" ry="1.2" fill="#7af0ff" filter="url(#b1)" opacity="1.00"/><ellipse cx="7.6" cy="15.2" rx="1.0" ry="1.2" fill="#00d2ff" filter="url(#b1)" opacity="1.00"/><ellipse cx="21.0" cy="22.6" rx="19.5" ry="3.0" fill="#00d2ff" filter="url(#b1)" opacity="0.95"/><ellipse cx="21.0" cy="22.8" rx="19.0" ry="2.5" fill="#3cff5a" filter="url(#b1)" opacity="0.95"/><ellipse cx="4.6" cy="22.4" rx="3.40" ry="2.40" fill="#3cff5a" filter="url(#b1)"/><ellipse cx="4.6" cy="22.4" rx="2.52" ry="1.78" fill="#fff000" filter="url(#b1)"/><ellipse cx="4.6" cy="22.4" rx="1.63" ry="1.15" fill="#ff2a00" filter="url(#b1)"/><ellipse cx="8.4" cy="23.8" rx="1.8" ry="1.4" fill="#3cff5a" filter="url(#b1)" opacity="1.00"/><ellipse cx="14.6" cy="22.4" rx="4.20" ry="2.50" fill="#3cff5a" filter="url(#b1)"/><ellipse cx="14.6" cy="22.4" rx="3.11" ry="1.85" fill="#fff000" filter="url(#b1)"/><ellipse cx="14.6" cy="22.4" rx="2.02" ry="1.20" fill="#ff2a00" filter="url(#b1)"/><ellipse cx="19.4" cy="22.2" rx="1.8" ry="1.4" fill="#fff000" filter="url(#b1)" opacity="1.00"/><ellipse cx="25.6" cy="23.2" rx="4.00" ry="2.40" fill="#3cff5a" filter="url(#b1)"/><ellipse cx="25.6" cy="23.2" rx="2.96" ry="1.78" fill="#fff000" filter="url(#b1)"/><ellipse cx="25.6" cy="23.2" rx="1.92" ry="1.15" fill="#ff2a00" filter="url(#b1)"/><ellipse cx="22.4" cy="21.8" rx="1.3" ry="1.0" fill="#3cff5a" filter="url(#b1)" opacity="1.00"/><ellipse cx="35.0" cy="23.8" rx="5.20" ry="2.60" fill="#3cff5a" filter="url(#b1)"/><ellipse cx="35.0" cy="23.8" rx="3.85" ry="1.92" fill="#fff000" filter="url(#b1)"/><ellipse cx="35.0" cy="23.8" rx="2.50" ry="1.25" fill="#ff2a00" filter="url(#b1)"/><ellipse cx="30.4" cy="22.6" rx="1.7" ry="1.3" fill="#fff000" filter="url(#b1)" opacity="1.00"/><ellipse cx="45.6" cy="21.4" rx="3.80" ry="3.00" fill="#00d2ff" filter="url(#b1)"/><ellipse cx="45.6" cy="21.4" rx="2.32" ry="1.83" fill="#3cff5a" filter="url(#b1)"/><ellipse cx="48.4" cy="21.0" rx="1.5" ry="1.3" fill="#fff000" filter="url(#b1)" opacity="0.90"/><ellipse cx="44.8" cy="24.4" rx="1.6" ry="1.2" fill="#00d2ff" filter="url(#b1)" opacity="1.00"/><ellipse cx="42.6" cy="20.4" rx="1.2" ry="1.2" fill="#00d2ff" filter="url(#b1)" opacity="1.00"/></g></g>
<g>
<text x="473" y="20.1" font-size="6.4" class="cb" style="font-family:'DejaVu Sans','Liberation Sans',sans-serif" textLength="36.5" lengthAdjust="spacingAndGlyphs">Luminescence</text>
<rect x="473" y="28" width="8.2" height="197" fill="url(#cbar)"/>
<line x1="481" x2="486.5" y1="28.20" y2="28.20" stroke="#222" stroke-width="0.95"/>
<line x1="481" x2="484.6" y1="36.09" y2="36.09" stroke="#333" stroke-width="0.85"/>
<line x1="481" x2="484.6" y1="43.98" y2="43.98" stroke="#333" stroke-width="0.85"/>
<line x1="481" x2="484.6" y1="51.87" y2="51.87" stroke="#333" stroke-width="0.85"/>
<line x1="481" x2="484.6" y1="59.76" y2="59.76" stroke="#333" stroke-width="0.85"/>
<line x1="481" x2="486.5" y1="67.65" y2="67.65" stroke="#222" stroke-width="0.95"/>
<line x1="481" x2="484.6" y1="75.54" y2="75.54" stroke="#333" stroke-width="0.85"/>
<line x1="481" x2="484.6" y1="83.43" y2="83.43" stroke="#333" stroke-width="0.85"/>
<line x1="481" x2="484.6" y1="91.32" y2="91.32" stroke="#333" stroke-width="0.85"/>
<line x1="481" x2="484.6" y1="99.21" y2="99.21" stroke="#333" stroke-width="0.85"/>
<line x1="481" x2="486.5" y1="107.10" y2="107.10" stroke="#222" stroke-width="0.95"/>
<line x1="481" x2="484.6" y1="114.99" y2="114.99" stroke="#333" stroke-width="0.85"/>
<line x1="481" x2="484.6" y1="122.88" y2="122.88" stroke="#333" stroke-width="0.85"/>
<line x1="481" x2="484.6" y1="130.77" y2="130.77" stroke="#333" stroke-width="0.85"/>
<line x1="481" x2="484.6" y1="138.66" y2="138.66" stroke="#333" stroke-width="0.85"/>
<line x1="481" x2="486.5" y1="146.55" y2="146.55" stroke="#222" stroke-width="0.95"/>
<line x1="481" x2="484.6" y1="154.44" y2="154.44" stroke="#333" stroke-width="0.85"/>
<line x1="481" x2="484.6" y1="162.33" y2="162.33" stroke="#333" stroke-width="0.85"/>
<line x1="481" x2="484.6" y1="170.22" y2="170.22" stroke="#333" stroke-width="0.85"/>
<line x1="481" x2="484.6" y1="178.11" y2="178.11" stroke="#333" stroke-width="0.85"/>
<line x1="481" x2="486.5" y1="186.00" y2="186.00" stroke="#222" stroke-width="0.95"/>
<line x1="481" x2="484.6" y1="193.89" y2="193.89" stroke="#333" stroke-width="0.85"/>
<line x1="481" x2="484.6" y1="201.78" y2="201.78" stroke="#333" stroke-width="0.85"/>
<line x1="481" x2="484.6" y1="209.67" y2="209.67" stroke="#333" stroke-width="0.85"/>
<line x1="481" x2="484.6" y1="217.56" y2="217.56" stroke="#333" stroke-width="0.85"/>
<text x="489.3" y="29.4" font-size="6.4" class="cb" style="font-family:'DejaVu Sans',sans-serif" textLength="8.3" lengthAdjust="spacingAndGlyphs">1.0</text>
<text x="489.3" y="68.9" font-size="6.4" class="cb" style="font-family:'DejaVu Sans',sans-serif" textLength="8.3" lengthAdjust="spacingAndGlyphs">0.8</text>
<text x="489.3" y="108.3" font-size="6.4" class="cb" style="font-family:'DejaVu Sans',sans-serif" textLength="8.3" lengthAdjust="spacingAndGlyphs">0.6</text>
<text x="489.3" y="147.8" font-size="6.4" class="cb" style="font-family:'DejaVu Sans',sans-serif" textLength="8.3" lengthAdjust="spacingAndGlyphs">0.4</text>
<text x="489.3" y="187.2" font-size="6.4" class="cb" style="font-family:'DejaVu Sans',sans-serif" textLength="8.3" lengthAdjust="spacingAndGlyphs">0.2</text>
<text x="502.3" y="126.7" font-size="6.5" font-weight="700" class="cb" textLength="9.4" lengthAdjust="spacingAndGlyphs" fill="#222">x10</text>
<text x="513.1" y="124.1" font-size="5.8" font-weight="700" class="cb" textLength="6.4" lengthAdjust="spacingAndGlyphs" fill="#222">10</text>
<text x="473.3" y="241.3" font-size="6.3" class="cb" style="font-family:'DejaVu Sans',sans-serif" textLength="25" lengthAdjust="spacingAndGlyphs">Radiance</text>
<text x="473.3" y="249.3" font-size="6.3" class="cb" style="font-family:'DejaVu Sans',sans-serif" textLength="38" lengthAdjust="spacingAndGlyphs">(p/sec/cm²/sr)</text>
<rect x="473" y="256.6" width="45" height="24.8" fill="#fff" stroke="#333" stroke-width="0.7"/>
<text x="475.2" y="263.3" font-size="6.2" class="cb" style="font-family:'DejaVu Sans',sans-serif" textLength="30" lengthAdjust="spacingAndGlyphs">Color scale</text>
<text x="475.2" y="270.6" font-size="6.2" class="cb" style="font-family:'DejaVu Sans',sans-serif" textLength="34.5" lengthAdjust="spacingAndGlyphs">Min = 5.00e6</text>
<text x="475.2" y="277.9" font-size="6.2" class="cb" style="font-family:'DejaVu Sans',sans-serif" textLength="39.5" lengthAdjust="spacingAndGlyphs">Max = 1.00e10</text>
</g>
<text x="1.5" y="302.2" font-size="12.3" font-weight="700" class="pl">B</text>
<g stroke="#111" stroke-width="1.3" fill="none">
<path d="M59.30 303.4V409.80H220.34" stroke-width="1.5"/>
<line x1="56.30" x2="59.30" y1="409.80" y2="409.80"/>
<line x1="56.30" x2="59.30" y1="394.73" y2="394.73"/>
<line x1="56.30" x2="59.30" y1="379.66" y2="379.66"/>
<line x1="56.30" x2="59.30" y1="364.59" y2="364.59"/>
<line x1="56.30" x2="59.30" y1="349.52" y2="349.52"/>
<line x1="56.30" x2="59.30" y1="334.45" y2="334.45"/>
<line x1="56.30" x2="59.30" y1="319.38" y2="319.38"/>
<line x1="56.30" x2="59.30" y1="304.31" y2="304.31"/>
<line x1="59.30" x2="59.30" y1="409.80" y2="413.20"/>
<line x1="82.22" x2="82.22" y1="409.80" y2="413.20"/>
<line x1="105.14" x2="105.14" y1="409.80" y2="413.20"/>
<line x1="128.06" x2="128.06" y1="409.80" y2="413.20"/>
<line x1="150.98" x2="150.98" y1="409.80" y2="413.20"/>
<line x1="173.90" x2="173.90" y1="409.80" y2="413.20"/>
<line x1="196.82" x2="196.82" y1="409.80" y2="413.20"/>
<line x1="219.74" x2="219.74" y1="409.80" y2="413.20"/>
<line x1="63.88" x2="63.88" y1="409.80" y2="411.80" stroke-width="0.7"/>
<line x1="68.47" x2="68.47" y1="409.80" y2="411.80" stroke-width="0.7"/>
<line x1="73.05" x2="73.05" y1="409.80" y2="411.80" stroke-width="0.7"/>
<line x1="77.64" x2="77.64" y1="409.80" y2="411.80" stroke-width="0.7"/>
<line x1="86.80" x2="86.80" y1="409.80" y2="411.80" stroke-width="0.7"/>
<line x1="91.39" x2="91.39" y1="409.80" y2="411.80" stroke-width="0.7"/>
<line x1="95.97" x2="95.97" y1="409.80" y2="411.80" stroke-width="0.7"/>
<line x1="100.56" x2="100.56" y1="409.80" y2="411.80" stroke-width="0.7"/>
<line x1="109.72" x2="109.72" y1="409.80" y2="411.80" stroke-width="0.7"/>
<line x1="114.31" x2="114.31" y1="409.80" y2="411.80" stroke-width="0.7"/>
<line x1="118.89" x2="118.89" y1="409.80" y2="411.80" stroke-width="0.7"/>
<line x1="123.48" x2="123.48" y1="409.80" y2="411.80" stroke-width="0.7"/>
<line x1="132.64" x2="132.64" y1="409.80" y2="411.80" stroke-width="0.7"/>
<line x1="137.23" x2="137.23" y1="409.80" y2="411.80" stroke-width="0.7"/>
<line x1="141.81" x2="141.81" y1="409.80" y2="411.80" stroke-width="0.7"/>
<line x1="146.40" x2="146.40" y1="409.80" y2="411.80" stroke-width="0.7"/>
<line x1="155.56" x2="155.56" y1="409.80" y2="411.80" stroke-width="0.7"/>
<line x1="160.15" x2="160.15" y1="409.80" y2="411.80" stroke-width="0.7"/>
<line x1="164.73" x2="164.73" y1="409.80" y2="411.80" stroke-width="0.7"/>
<line x1="169.32" x2="169.32" y1="409.80" y2="411.80" stroke-width="0.7"/>
<line x1="178.48" x2="178.48" y1="409.80" y2="411.80" stroke-width="0.7"/>
<line x1="183.07" x2="183.07" y1="409.80" y2="411.80" stroke-width="0.7"/>
<line x1="187.65" x2="187.65" y1="409.80" y2="411.80" stroke-width="0.7"/>
<line x1="192.24" x2="192.24" y1="409.80" y2="411.80" stroke-width="0.7"/>
<line x1="201.40" x2="201.40" y1="409.80" y2="411.80" stroke-width="0.7"/>
<line x1="205.99" x2="205.99" y1="409.80" y2="411.80" stroke-width="0.7"/>
<line x1="210.57" x2="210.57" y1="409.80" y2="411.80" stroke-width="0.7"/>
<line x1="215.16" x2="215.16" y1="409.80" y2="411.80" stroke-width="0.7"/>
</g>
<text transform="translate(55.0 412.7) scale(0.87 1)" font-size="8.7" font-weight="700" text-anchor="end">10<tspan dy="-3.4" font-size="5.7">3</tspan></text>
<text transform="translate(55.0 397.6) scale(0.87 1)" font-size="8.7" font-weight="700" text-anchor="end">10<tspan dy="-3.4" font-size="5.7">4</tspan></text>
<text transform="translate(55.0 382.6) scale(0.87 1)" font-size="8.7" font-weight="700" text-anchor="end">10<tspan dy="-3.4" font-size="5.7">5</tspan></text>
<text transform="translate(55.0 367.5) scale(0.87 1)" font-size="8.7" font-weight="700" text-anchor="end">10<tspan dy="-3.4" font-size="5.7">6</tspan></text>
<text transform="translate(55.0 352.4) scale(0.87 1)" font-size="8.7" font-weight="700" text-anchor="end">10<tspan dy="-3.4" font-size="5.7">7</tspan></text>
<text transform="translate(55.0 337.4) scale(0.87 1)" font-size="8.7" font-weight="700" text-anchor="end">10<tspan dy="-3.4" font-size="5.7">8</tspan></text>
<text transform="translate(55.0 322.3) scale(0.87 1)" font-size="8.7" font-weight="700" text-anchor="end">10<tspan dy="-3.4" font-size="5.7">9</tspan></text>
<text transform="translate(55.6 307.2) scale(0.87 1)" font-size="8.7" font-weight="700" text-anchor="end">10<tspan dy="-3.4" font-size="5.7">10</tspan></text>
<text transform="translate(59.3 422.2) scale(0.87 1)" font-size="8.7" font-weight="700" text-anchor="middle">0</text>
<text transform="translate(82.2 422.2) scale(0.87 1)" font-size="8.7" font-weight="700" text-anchor="middle">20</text>
<text transform="translate(105.1 422.2) scale(0.87 1)" font-size="8.7" font-weight="700" text-anchor="middle">40</text>
<text transform="translate(128.1 422.2) scale(0.87 1)" font-size="8.7" font-weight="700" text-anchor="middle">60</text>
<text transform="translate(151.0 422.2) scale(0.87 1)" font-size="8.7" font-weight="700" text-anchor="middle">80</text>
<text transform="translate(173.9 422.2) scale(0.87 1)" font-size="8.7" font-weight="700" text-anchor="middle">100</text>
<text transform="translate(196.8 422.2) scale(0.87 1)" font-size="8.7" font-weight="700" text-anchor="middle">120</text>
<text transform="translate(219.7 422.2) scale(0.87 1)" font-size="8.7" font-weight="700" text-anchor="middle">140</text>
<text x="125.3" y="433.4" font-size="9.45" text-anchor="middle" fill="#222">Days post implantation</text>
<text transform="translate(30.2 351.5) rotate(-90)" font-size="9.05" text-anchor="middle" fill="#222">Avg radiance (p/s/cm<tspan dy="-3" font-size="5.6">2</tspan><tspan dy="3">/sr)</tspan></text>
<g stroke="#1414d2" fill="#1414d2">
<polyline fill="none" stroke-width="1.6" points="63.9,377.4 83.4,402.4 91.4,405.4 99.4,405.0 107.4,402.6 115.5,399.4 123.5,393.6 131.5,387.6 139.5,382.4 147.5,373.8 155.6,367.9 163.6,361.5 171.6,357.7 179.6,353.3 187.7,348.7 195.7,343.6 203.7,337.8 211.7,330.1 219.7,323.4"/>
<circle cx="63.9" cy="377.4" r="2.35" stroke="none"/>
<circle cx="83.4" cy="402.4" r="2.35" stroke="none"/>
<circle cx="91.4" cy="405.4" r="2.35" stroke="none"/>
<circle cx="99.4" cy="405.0" r="2.35" stroke="none"/>
<path d="M107.4 400.4V404.8M105.0 400.4h4.8M105.0 404.8h4.8" fill="none" stroke-width="1.4"/>
<circle cx="107.4" cy="402.6" r="2.35" stroke="none"/>
<path d="M115.5 395.4V403.4M113.1 395.4h4.8M113.1 403.4h4.8" fill="none" stroke-width="1.4"/>
<circle cx="115.5" cy="399.4" r="2.35" stroke="none"/>
<path d="M123.5 388.6V398.6M121.1 388.6h4.8M121.1 398.6h4.8" fill="none" stroke-width="1.4"/>
<circle cx="123.5" cy="393.6" r="2.35" stroke="none"/>
<path d="M131.5 381.2V394.0M129.1 381.2h4.8M129.1 394.0h4.8" fill="none" stroke-width="1.4"/>
<circle cx="131.5" cy="387.6" r="2.35" stroke="none"/>
<path d="M139.5 377.4V387.4M137.1 377.4h4.8M137.1 387.4h4.8" fill="none" stroke-width="1.4"/>
<circle cx="139.5" cy="382.4" r="2.35" stroke="none"/>
<path d="M147.5 369.8V377.8M145.1 369.8h4.8M145.1 377.8h4.8" fill="none" stroke-width="1.4"/>
<circle cx="147.5" cy="373.8" r="2.35" stroke="none"/>
<path d="M155.6 364.1V371.7M153.2 364.1h4.8M153.2 371.7h4.8" fill="none" stroke-width="1.4"/>
<circle cx="155.6" cy="367.9" r="2.35" stroke="none"/>
<path d="M163.6 358.1V364.9M161.2 358.1h4.8M161.2 364.9h4.8" fill="none" stroke-width="1.4"/>
<circle cx="163.6" cy="361.5" r="2.35" stroke="none"/>
<path d="M171.6 354.9V360.5M169.2 354.9h4.8M169.2 360.5h4.8" fill="none" stroke-width="1.4"/>
<circle cx="171.6" cy="357.7" r="2.35" stroke="none"/>
<path d="M179.6 350.7V355.9M177.2 350.7h4.8M177.2 355.9h4.8" fill="none" stroke-width="1.4"/>
<circle cx="179.6" cy="353.3" r="2.35" stroke="none"/>
<path d="M187.7 346.3V351.1M185.3 346.3h4.8M185.3 351.1h4.8" fill="none" stroke-width="1.4"/>
<circle cx="187.7" cy="348.7" r="2.35" stroke="none"/>
<path d="M195.7 341.4V345.8M193.3 341.4h4.8M193.3 345.8h4.8" fill="none" stroke-width="1.4"/>
<circle cx="195.7" cy="343.6" r="2.35" stroke="none"/>
<path d="M203.7 335.4V340.2M201.3 335.4h4.8M201.3 340.2h4.8" fill="none" stroke-width="1.4"/>
<circle cx="203.7" cy="337.8" r="2.35" stroke="none"/>
<path d="M211.7 327.3V332.9M209.3 327.3h4.8M209.3 332.9h4.8" fill="none" stroke-width="1.4"/>
<circle cx="211.7" cy="330.1" r="2.35" stroke="none"/>
<path d="M219.7 319.8V327.0M217.3 319.8h4.8M217.3 327.0h4.8" fill="none" stroke-width="1.4"/>
<circle cx="219.7" cy="323.4" r="2.35" stroke="none"/>
</g>
<g stroke="#5b9bf0" fill="#5b9bf0">
<polyline fill="none" stroke-width="1.6" points="63.9,377.4 83.4,401.2 91.4,402.4 99.4,398.6 107.4,393.4 115.5,385.4 123.5,377.0 131.5,367.6 139.5,361.2 147.5,354.6 155.6,348.2 163.6,343.6 171.6,338.5 179.6,335.5 187.7,329.6 195.7,322.4 203.7,316.8 211.7,314.3 219.7,314.8"/>
<circle cx="63.9" cy="377.4" r="2.35" stroke="none"/>
<circle cx="83.4" cy="401.2" r="2.35" stroke="none"/>
<circle cx="91.4" cy="402.4" r="2.35" stroke="none"/>
<path d="M99.4 396.8V400.4M97.0 396.8h4.8M97.0 400.4h4.8" fill="none" stroke-width="1.4"/>
<circle cx="99.4" cy="398.6" r="2.35" stroke="none"/>
<path d="M107.4 390.4V396.4M105.0 390.4h4.8M105.0 396.4h4.8" fill="none" stroke-width="1.4"/>
<circle cx="107.4" cy="393.4" r="2.35" stroke="none"/>
<path d="M115.5 379.4V391.4M113.1 379.4h4.8M113.1 391.4h4.8" fill="none" stroke-width="1.4"/>
<circle cx="115.5" cy="385.4" r="2.35" stroke="none"/>
<path d="M123.5 372.4V381.6M121.1 372.4h4.8M121.1 381.6h4.8" fill="none" stroke-width="1.4"/>
<circle cx="123.5" cy="377.0" r="2.35" stroke="none"/>
<path d="M131.5 361.0V374.2M129.1 361.0h4.8M129.1 374.2h4.8" fill="none" stroke-width="1.4"/>
<circle cx="131.5" cy="367.6" r="2.35" stroke="none"/>
<path d="M139.5 357.2V365.2M137.1 357.2h4.8M137.1 365.2h4.8" fill="none" stroke-width="1.4"/>
<circle cx="139.5" cy="361.2" r="2.35" stroke="none"/>
<path d="M147.5 350.8V358.4M145.1 350.8h4.8M145.1 358.4h4.8" fill="none" stroke-width="1.4"/>
<circle cx="147.5" cy="354.6" r="2.35" stroke="none"/>
<path d="M155.6 345.0V351.4M153.2 345.0h4.8M153.2 351.4h4.8" fill="none" stroke-width="1.4"/>
<circle cx="155.6" cy="348.2" r="2.35" stroke="none"/>
<path d="M163.6 340.4V346.8M161.2 340.4h4.8M161.2 346.8h4.8" fill="none" stroke-width="1.4"/>
<circle cx="163.6" cy="343.6" r="2.35" stroke="none"/>
<path d="M171.6 334.9V342.1M169.2 334.9h4.8M169.2 342.1h4.8" fill="none" stroke-width="1.4"/>
<circle cx="171.6" cy="338.5" r="2.35" stroke="none"/>
<path d="M179.6 332.3V338.7M177.2 332.3h4.8M177.2 338.7h4.8" fill="none" stroke-width="1.4"/>
<circle cx="179.6" cy="335.5" r="2.35" stroke="none"/>
<path d="M187.7 326.4V332.8M185.3 326.4h4.8M185.3 332.8h4.8" fill="none" stroke-width="1.4"/>
<circle cx="187.7" cy="329.6" r="2.35" stroke="none"/>
<path d="M195.7 319.2V325.6M193.3 319.2h4.8M193.3 325.6h4.8" fill="none" stroke-width="1.4"/>
<circle cx="195.7" cy="322.4" r="2.35" stroke="none"/>
<path d="M203.7 313.8V319.8M201.3 313.8h4.8M201.3 319.8h4.8" fill="none" stroke-width="1.4"/>
<circle cx="203.7" cy="316.8" r="2.35" stroke="none"/>
<path d="M211.7 311.7V316.9M209.3 311.7h4.8M209.3 316.9h4.8" fill="none" stroke-width="1.4"/>
<circle cx="211.7" cy="314.3" r="2.35" stroke="none"/>
<path d="M219.7 312.8V316.8M217.3 312.8h4.8M217.3 316.8h4.8" fill="none" stroke-width="1.4"/>
<circle cx="219.7" cy="314.8" r="2.35" stroke="none"/>
</g>
<g stroke="#2fe0ee" fill="#2fe0ee">
<polyline fill="none" stroke-width="1.6" points="63.9,377.4 83.4,392.2 91.4,387.0 99.4,379.4 107.4,370.0 115.5,357.4 123.5,345.0 131.5,338.5 139.5,333.4 147.5,328.8 155.6,322.0 163.6,320.7 171.6,314.8"/>
<circle cx="63.9" cy="377.4" r="2.35" stroke="none"/>
<circle cx="83.4" cy="392.2" r="2.35" stroke="none"/>
<circle cx="91.4" cy="387.0" r="2.35" stroke="none"/>
<circle cx="99.4" cy="379.4" r="2.35" stroke="none"/>
<circle cx="107.4" cy="370.0" r="2.35" stroke="none"/>
<circle cx="115.5" cy="357.4" r="2.35" stroke="none"/>
<circle cx="123.5" cy="345.0" r="2.35" stroke="none"/>
<circle cx="131.5" cy="338.5" r="2.35" stroke="none"/>
<circle cx="139.5" cy="333.4" r="2.35" stroke="none"/>
<circle cx="147.5" cy="328.8" r="2.35" stroke="none"/>
<circle cx="155.6" cy="322.0" r="2.35" stroke="none"/>
<circle cx="163.6" cy="320.7" r="2.35" stroke="none"/>
<path d="M171.6 313.4V316.2M169.2 313.4h4.8M169.2 316.2h4.8" fill="none" stroke-width="1.4"/>
<circle cx="171.6" cy="314.8" r="2.35" stroke="none"/>
</g>
<g stroke="#e2211c" fill="#e2211c">
<polyline fill="none" stroke-width="1.6" points="63.9,377.4 83.4,359.0 91.4,336.5 99.4,329.6 107.4,325.8 115.5,316.8 123.5,311.8 131.5,314.3"/>
<circle cx="63.9" cy="377.4" r="2.35" stroke="none"/>
<circle cx="83.4" cy="359.0" r="2.35" stroke="none"/>
<circle cx="91.4" cy="336.5" r="2.35" stroke="none"/>
<circle cx="99.4" cy="329.6" r="2.35" stroke="none"/>
<circle cx="107.4" cy="325.8" r="2.35" stroke="none"/>
<circle cx="115.5" cy="316.8" r="2.35" stroke="none"/>
<circle cx="123.5" cy="311.8" r="2.35" stroke="none"/>
<circle cx="131.5" cy="314.3" r="2.35" stroke="none"/>
</g>
<g stroke="#a9772c" fill="#a9772c">
<polyline fill="none" stroke-width="1.6" points="63.9,377.4 83.4,352.6 91.4,336.3 99.4,329.4 107.4,322.7 115.5,314.8"/>
<circle cx="63.9" cy="377.4" r="2.35" stroke="none"/>
<circle cx="83.4" cy="352.6" r="2.35" stroke="none"/>
<circle cx="91.4" cy="336.3" r="2.35" stroke="none"/>
<circle cx="99.4" cy="329.4" r="2.35" stroke="none"/>
<circle cx="107.4" cy="322.7" r="2.35" stroke="none"/>
<circle cx="115.5" cy="314.8" r="2.35" stroke="none"/>
</g>
<line x1="79.2" x2="91.8" y1="447.4" y2="447.4" stroke="#1414d2" stroke-width="1.7"/>
<circle cx="85.5" cy="447.4" r="2.6" fill="#1414d2"/>
<text x="96.6" y="450.9" font-size="10.2">0.3 mg/kg CS-1 ADC</text>
<line x1="79.2" x2="91.8" y1="461.4" y2="461.4" stroke="#5b9bf0" stroke-width="1.7"/>
<circle cx="85.5" cy="461.4" r="2.6" fill="#5b9bf0"/>
<text x="96.6" y="464.9" font-size="10.2">0.1 mg/kg CS-1 ADC</text>
<line x1="79.2" x2="91.8" y1="475.2" y2="475.2" stroke="#2fe0ee" stroke-width="1.7"/>
<circle cx="85.5" cy="475.2" r="2.6" fill="#2fe0ee"/>
<text x="96.6" y="478.7" font-size="10.2">0.03 mg/kg CS-1 ADC</text>
<line x1="79.2" x2="91.8" y1="489.1" y2="489.1" stroke="#e2211c" stroke-width="1.7"/>
<circle cx="85.5" cy="489.1" r="2.6" fill="#e2211c"/>
<text x="96.6" y="492.6" font-size="10.2">0.3 mg/kg control ADC</text>
<line x1="79.2" x2="91.8" y1="503.0" y2="503.0" stroke="#a9772c" stroke-width="1.7"/>
<circle cx="85.5" cy="503.0" r="2.6" fill="#a9772c"/>
<text x="96.6" y="506.5" font-size="10.2">Untreated</text>
<text x="274" y="302.2" font-size="12.3" font-weight="700" class="pl">C</text>
<g stroke="#111" stroke-width="1.2" fill="none">
<path d="M312.30 302.80V410.70H472.78" stroke-width="1.6"/>
<line x1="309.10" x2="312.30" y1="410.60" y2="410.60"/>
<line x1="309.10" x2="312.30" y1="399.87" y2="399.87"/>
<line x1="309.10" x2="312.30" y1="389.14" y2="389.14"/>
<line x1="309.10" x2="312.30" y1="378.41" y2="378.41"/>
<line x1="309.10" x2="312.30" y1="367.68" y2="367.68"/>
<line x1="309.10" x2="312.30" y1="356.95" y2="356.95"/>
<line x1="309.10" x2="312.30" y1="346.22" y2="346.22"/>
<line x1="309.10" x2="312.30" y1="335.49" y2="335.49"/>
<line x1="309.10" x2="312.30" y1="324.76" y2="324.76"/>
<line x1="309.10" x2="312.30" y1="314.03" y2="314.03"/>
<line x1="309.10" x2="312.30" y1="303.30" y2="303.30"/>
<line x1="312.30" x2="312.30" y1="410.60" y2="414.00"/>
<line x1="335.14" x2="335.14" y1="410.60" y2="414.00"/>
<line x1="357.98" x2="357.98" y1="410.60" y2="414.00"/>
<line x1="380.82" x2="380.82" y1="410.60" y2="414.00"/>
<line x1="403.66" x2="403.66" y1="410.60" y2="414.00"/>
<line x1="426.50" x2="426.50" y1="410.60" y2="414.00"/>
<line x1="449.34" x2="449.34" y1="410.60" y2="414.00"/>
<line x1="472.18" x2="472.18" y1="410.60" y2="414.00"/>
<line x1="316.87" x2="316.87" y1="410.60" y2="412.60" stroke-width="0.7"/>
<line x1="321.44" x2="321.44" y1="410.60" y2="412.60" stroke-width="0.7"/>
<line x1="326.00" x2="326.00" y1="410.60" y2="412.60" stroke-width="0.7"/>
<line x1="330.57" x2="330.57" y1="410.60" y2="412.60" stroke-width="0.7"/>
<line x1="339.71" x2="339.71" y1="410.60" y2="412.60" stroke-width="0.7"/>
<line x1="344.28" x2="344.28" y1="410.60" y2="412.60" stroke-width="0.7"/>
<line x1="348.84" x2="348.84" y1="410.60" y2="412.60" stroke-width="0.7"/>
<line x1="353.41" x2="353.41" y1="410.60" y2="412.60" stroke-width="0.7"/>
<line x1="362.55" x2="362.55" y1="410.60" y2="412.60" stroke-width="0.7"/>
<line x1="367.12" x2="367.12" y1="410.60" y2="412.60" stroke-width="0.7"/>
<line x1="371.68" x2="371.68" y1="410.60" y2="412.60" stroke-width="0.7"/>
<line x1="376.25" x2="376.25" y1="410.60" y2="412.60" stroke-width="0.7"/>
<line x1="385.39" x2="385.39" y1="410.60" y2="412.60" stroke-width="0.7"/>
<line x1="389.96" x2="389.96" y1="410.60" y2="412.60" stroke-width="0.7"/>
<line x1="394.52" x2="394.52" y1="410.60" y2="412.60" stroke-width="0.7"/>
<line x1="399.09" x2="399.09" y1="410.60" y2="412.60" stroke-width="0.7"/>
<line x1="408.23" x2="408.23" y1="410.60" y2="412.60" stroke-width="0.7"/>
<line x1="412.80" x2="412.80" y1="410.60" y2="412.60" stroke-width="0.7"/>
<line x1="417.36" x2="417.36" y1="410.60" y2="412.60" stroke-width="0.7"/>
<line x1="421.93" x2="421.93" y1="410.60" y2="412.60" stroke-width="0.7"/>
<line x1="431.07" x2="431.07" y1="410.60" y2="412.60" stroke-width="0.7"/>
<line x1="435.64" x2="435.64" y1="410.60" y2="412.60" stroke-width="0.7"/>
<line x1="440.20" x2="440.20" y1="410.60" y2="412.60" stroke-width="0.7"/>
<line x1="444.77" x2="444.77" y1="410.60" y2="412.60" stroke-width="0.7"/>
<line x1="453.91" x2="453.91" y1="410.60" y2="412.60" stroke-width="0.7"/>
<line x1="458.48" x2="458.48" y1="410.60" y2="412.60" stroke-width="0.7"/>
<line x1="463.04" x2="463.04" y1="410.60" y2="412.60" stroke-width="0.7"/>
<line x1="467.61" x2="467.61" y1="410.60" y2="412.60" stroke-width="0.7"/>
</g>
<text transform="translate(307.8 413.6) scale(0.87 1)" font-size="8.7" font-weight="700" text-anchor="end">0</text>
<text transform="translate(307.8 402.9) scale(0.87 1)" font-size="8.7" font-weight="700" text-anchor="end">10</text>
<text transform="translate(307.8 392.1) scale(0.87 1)" font-size="8.7" font-weight="700" text-anchor="end">20</text>
<text transform="translate(307.8 381.4) scale(0.87 1)" font-size="8.7" font-weight="700" text-anchor="end">30</text>
<text transform="translate(307.8 370.7) scale(0.87 1)" font-size="8.7" font-weight="700" text-anchor="end">40</text>
<text transform="translate(307.8 360.0) scale(0.87 1)" font-size="8.7" font-weight="700" text-anchor="end">50</text>
<text transform="translate(307.8 349.2) scale(0.87 1)" font-size="8.7" font-weight="700" text-anchor="end">60</text>
<text transform="translate(307.8 338.5) scale(0.87 1)" font-size="8.7" font-weight="700" text-anchor="end">70</text>
<text transform="translate(307.8 327.8) scale(0.87 1)" font-size="8.7" font-weight="700" text-anchor="end">80</text>
<text transform="translate(307.8 317.0) scale(0.87 1)" font-size="8.7" font-weight="700" text-anchor="end">90</text>
<text transform="translate(307.8 306.3) scale(0.87 1)" font-size="8.7" font-weight="700" text-anchor="end">100</text>
<text transform="translate(312.3 422.6) scale(0.87 1)" font-size="8.7" font-weight="700" text-anchor="middle">0</text>
<text transform="translate(335.1 422.6) scale(0.87 1)" font-size="8.7" font-weight="700" text-anchor="middle">20</text>
<text transform="translate(358.0 422.6) scale(0.87 1)" font-size="8.7" font-weight="700" text-anchor="middle">40</text>
<text transform="translate(380.8 422.6) scale(0.87 1)" font-size="8.7" font-weight="700" text-anchor="middle">60</text>
<text transform="translate(403.7 422.6) scale(0.87 1)" font-size="8.7" font-weight="700" text-anchor="middle">80</text>
<text transform="translate(426.5 422.6) scale(0.87 1)" font-size="8.7" font-weight="700" text-anchor="middle">100</text>
<text transform="translate(449.3 422.6) scale(0.87 1)" font-size="8.7" font-weight="700" text-anchor="middle">120</text>
<text transform="translate(472.2 422.6) scale(0.87 1)" font-size="8.7" font-weight="700" text-anchor="middle">140</text>
<text x="395.2" y="432.8" font-size="9.45" text-anchor="middle" fill="#222">Days post implantation</text>
<text transform="translate(291.3 355.5) rotate(-90)" font-size="9.3" text-anchor="middle" fill="#222">Percent survival</text>
<polyline fill="none" stroke="#a9772c" stroke-width="1.3" points="312.3,303.3 368.5,303.3 368.5,324.8 371.5,324.8 371.5,389.1 372.6,389.1 372.6,410.6"/>
<polyline fill="none" stroke="#d8261e" stroke-width="1.6" points="312.3,303.3 371.7,303.3 371.7,324.8 372.8,324.8 372.8,346.2 383.4,346.2 383.4,410.6"/>
<polyline fill="none" stroke="#55e2ea" stroke-width="1.0" points="312.3,303.3 408.7,303.3 408.7,346.2 424.7,346.2 424.7,389.1 437.2,389.1 437.2,410.6"/>
<line x1="312.3" x2="472.8" y1="305.2" y2="305.2" stroke="#2424b4" stroke-width="2.2"/>
<line x1="312.3" x2="472.8" y1="303.9" y2="303.9" stroke="#5b9bf0" stroke-width="0.8"/>
<line x1="472.5" x2="472.5" y1="301.5" y2="305.7" stroke="#5b9bf0" stroke-width="1.2"/>
<line x1="336.4" x2="351.4" y1="447.4" y2="447.4" stroke="#1414d2" stroke-width="2.2"/>
<line x1="343.9" x2="343.9" y1="445.0" y2="447.4" stroke="#1414d2" stroke-width="1.2"/>
<text x="357.8" y="450.9" font-size="10.2">0.3 mg/kg CS-1 ADC</text>
<line x1="336.4" x2="351.4" y1="461.4" y2="461.4" stroke="#5b9bf0" stroke-width="1.7"/>
<line x1="343.9" x2="343.9" y1="459.0" y2="461.4" stroke="#5b9bf0" stroke-width="1.2"/>
<text x="357.8" y="464.9" font-size="10.2">0.1 mg/kg CS-1 ADC</text>
<line x1="336.4" x2="351.4" y1="475.2" y2="475.2" stroke="#2fe0ee" stroke-width="1.7"/>
<line x1="343.9" x2="343.9" y1="472.8" y2="475.2" stroke="#2fe0ee" stroke-width="1.2"/>
<text x="357.8" y="478.7" font-size="10.2">0.03 mg/kg CS-1 ADC</text>
<line x1="336.4" x2="351.4" y1="489.1" y2="489.1" stroke="#e2211c" stroke-width="1.7"/>
<line x1="343.9" x2="343.9" y1="486.7" y2="489.1" stroke="#e2211c" stroke-width="1.2"/>
<text x="357.8" y="492.6" font-size="10.2">0.3 mg/kg control ADC</text>
<line x1="336.4" x2="351.4" y1="503.0" y2="503.0" stroke="#a9772c" stroke-width="1.7"/>
<line x1="343.9" x2="343.9" y1="500.6" y2="503.0" stroke="#a9772c" stroke-width="1.2"/>
<text x="357.8" y="506.5" font-size="10.2">Untreated</text>
</svg></body></html>
